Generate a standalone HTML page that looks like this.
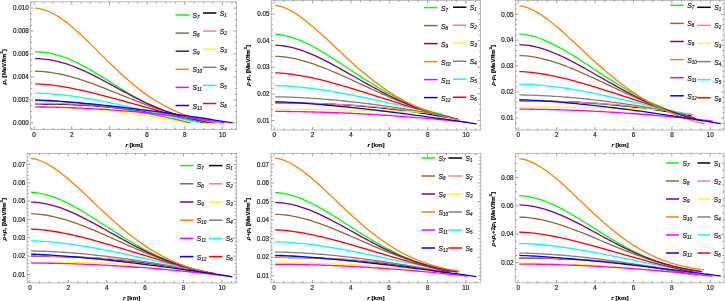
<!DOCTYPE html>
<html><head><meta charset="utf-8"><style>
html,body{margin:0;padding:0;background:#fff;}
body{width:725px;height:301px;overflow:hidden;font-family:"Liberation Sans",sans-serif;}
svg{display:block;will-change:transform;}
</style></head><body>
<svg width="725" height="301" viewBox="0 0 725 301">
<clipPath id="c0"><rect x="30.60" y="1.80" width="205.90" height="127.60"/></clipPath>
<g clip-path="url(#c0)" fill="none" stroke-width="1.30" stroke-linejoin="round" stroke-linecap="butt">
<polyline stroke="#000000" points="35.23,103.96 38.04,103.96 40.84,103.97 43.65,103.99 46.45,104.02 49.26,104.05 52.06,104.09 54.87,104.14 57.68,104.21 60.48,104.27 63.29,104.35 66.09,104.44 68.90,104.54 71.70,104.65 74.51,104.77 77.31,104.90 80.12,105.03 82.93,105.18 85.73,105.34 88.54,105.52 91.34,105.70 94.15,105.89 96.95,106.09 99.76,106.31 102.57,106.54 105.37,106.78 108.18,107.03 110.98,107.29 113.79,107.56 116.59,107.84 119.40,108.14 122.21,108.45 125.01,108.77 127.82,109.10 130.62,109.45 133.43,109.81 136.23,110.18 139.04,110.56 141.85,110.95 144.65,111.36 147.46,111.78 150.26,112.21 153.07,112.65 155.87,113.11 158.68,113.58 161.48,114.07 164.29,114.56 167.10,115.07 169.90,115.59 172.71,116.13 175.51,116.68 178.32,117.24 181.12,117.82 183.93,118.40 186.74,119.01 189.54,119.62 192.35,120.25 195.15,120.89 197.96,121.55 200.76,122.22 203.57,122.90"/>
<polyline stroke="#FF8080" points="35.23,103.38 38.08,103.39 40.94,103.40 43.79,103.42 46.64,103.45 49.49,103.48 52.35,103.52 55.20,103.58 58.05,103.64 60.90,103.71 63.76,103.79 66.61,103.88 69.46,103.98 72.32,104.09 75.17,104.22 78.02,104.35 80.87,104.49 83.73,104.65 86.58,104.81 89.43,104.99 92.28,105.18 95.14,105.37 97.99,105.58 100.84,105.81 103.70,106.04 106.55,106.29 109.40,106.54 112.25,106.81 115.11,107.09 117.96,107.39 120.81,107.69 123.66,108.01 126.52,108.34 129.37,108.68 132.22,109.04 135.08,109.41 137.93,109.79 140.78,110.18 143.63,110.59 146.49,111.01 149.34,111.44 152.19,111.89 155.05,112.34 157.90,112.82 160.75,113.30 163.60,113.80 166.46,114.31 169.31,114.83 172.16,115.37 175.01,115.92 177.87,116.49 180.72,117.07 183.57,117.66 186.43,118.27 189.28,118.89 192.13,119.52 194.98,120.17 197.84,120.83 200.69,121.51 203.54,122.20 206.39,122.90"/>
<polyline stroke="#FFFF00" points="35.23,107.40 37.75,107.41 40.28,107.42 42.80,107.44 45.32,107.47 47.85,107.50 50.37,107.54 52.89,107.59 55.42,107.65 57.94,107.72 60.46,107.79 62.99,107.87 65.51,107.96 68.03,108.06 70.55,108.17 73.08,108.29 75.60,108.41 78.12,108.54 80.65,108.68 83.17,108.83 85.69,108.99 88.22,109.16 90.74,109.34 93.26,109.52 95.79,109.72 98.31,109.92 100.83,110.13 103.36,110.35 105.88,110.59 108.40,110.82 110.93,111.07 113.45,111.33 115.97,111.60 118.50,111.87 121.02,112.16 123.54,112.45 126.07,112.76 128.59,113.07 131.11,113.39 133.64,113.73 136.16,114.07 138.68,114.42 141.21,114.78 143.73,115.15 146.25,115.53 148.77,115.92 151.30,116.31 153.82,116.72 156.34,117.14 158.87,117.57 161.39,118.00 163.91,118.45 166.44,118.90 168.96,119.37 171.48,119.85 174.01,120.33 176.53,120.82 179.05,121.33 181.58,121.84 184.10,122.37 186.62,122.90"/>
<polyline stroke="#808080" points="35.23,100.52 37.82,100.55 40.41,100.61 43.01,100.69 45.60,100.78 48.19,100.89 50.78,101.01 53.38,101.15 55.97,101.30 58.56,101.47 61.15,101.64 63.74,101.83 66.34,102.04 68.93,102.25 71.52,102.48 74.11,102.71 76.71,102.96 79.30,103.22 81.89,103.49 84.48,103.77 87.08,104.06 89.67,104.36 92.26,104.67 94.85,104.99 97.44,105.32 100.04,105.65 102.63,106.00 105.22,106.36 107.81,106.73 110.41,107.10 113.00,107.49 115.59,107.88 118.18,108.29 120.77,108.70 123.37,109.12 125.96,109.55 128.55,109.98 131.14,110.43 133.74,110.89 136.33,111.35 138.92,111.82 141.51,112.30 144.10,112.79 146.70,113.28 149.29,113.79 151.88,114.30 154.47,114.82 157.07,115.34 159.66,115.88 162.25,116.42 164.84,116.97 167.44,117.53 170.03,118.10 172.62,118.67 175.21,119.25 177.80,119.84 180.40,120.44 182.99,121.04 185.58,121.66 188.17,122.27 190.77,122.90"/>
<polyline stroke="#00FFFF" points="35.23,93.06 37.99,93.11 40.74,93.19 43.50,93.31 46.25,93.46 49.01,93.64 51.76,93.85 54.52,94.08 57.27,94.34 60.03,94.62 62.78,94.92 65.54,95.24 68.30,95.59 71.05,95.95 73.81,96.34 76.56,96.74 79.32,97.16 82.07,97.59 84.83,98.05 87.58,98.51 90.34,99.00 93.09,99.49 95.85,100.00 98.61,100.52 101.36,101.05 104.12,101.60 106.87,102.15 109.63,102.71 112.38,103.28 115.14,103.86 117.89,104.45 120.65,105.05 123.40,105.65 126.16,106.25 128.92,106.87 131.67,107.48 134.43,108.10 137.18,108.73 139.94,109.35 142.69,109.98 145.45,110.61 148.20,111.24 150.96,111.88 153.71,112.51 156.47,113.14 159.23,113.77 161.98,114.41 164.74,115.03 167.49,115.66 170.25,116.29 173.00,116.91 175.76,117.53 178.51,118.14 181.27,118.75 184.02,119.36 186.78,119.96 189.54,120.56 192.29,121.16 195.05,121.74 197.80,122.32 200.56,122.90"/>
<polyline stroke="#FF0000" points="35.23,83.88 38.10,83.97 40.97,84.12 43.84,84.32 46.70,84.57 49.57,84.87 52.44,85.20 55.31,85.57 58.18,85.98 61.05,86.41 63.91,86.88 66.78,87.38 69.65,87.90 72.52,88.45 75.39,89.03 78.26,89.63 81.12,90.25 83.99,90.88 86.86,91.54 89.73,92.22 92.60,92.91 95.47,93.61 98.34,94.33 101.20,95.06 104.07,95.81 106.94,96.56 109.81,97.32 112.68,98.09 115.55,98.87 118.41,99.65 121.28,100.44 124.15,101.24 127.02,102.03 129.89,102.83 132.76,103.63 135.63,104.43 138.49,105.23 141.36,106.03 144.23,106.83 147.10,107.63 149.97,108.43 152.84,109.22 155.70,110.00 158.57,110.78 161.44,111.56 164.31,112.33 167.18,113.09 170.05,113.85 172.91,114.60 175.78,115.34 178.65,116.08 181.52,116.80 184.39,117.52 187.26,118.23 190.13,118.93 192.99,119.61 195.86,120.29 198.73,120.96 201.60,121.62 204.47,122.26 207.34,122.90"/>
<polyline stroke="#00FF00" points="35.23,51.73 38.13,51.82 41.04,52.00 43.94,52.29 46.84,52.69 49.74,53.20 52.65,53.81 55.55,54.52 58.45,55.34 61.36,56.26 64.26,57.27 67.16,58.37 70.07,59.56 72.97,60.83 75.87,62.19 78.77,63.61 81.68,65.10 84.58,66.65 87.48,68.26 90.39,69.92 93.29,71.62 96.19,73.35 99.09,75.12 102.00,76.91 104.90,78.71 107.80,80.53 110.71,82.35 113.61,84.17 116.51,85.98 119.42,87.79 122.32,89.57 125.22,91.34 128.12,93.07 131.03,94.78 133.93,96.45 136.83,98.09 139.74,99.68 142.64,101.23 145.54,102.73 148.45,104.19 151.35,105.59 154.25,106.95 157.15,108.25 160.06,109.49 162.96,110.68 165.86,111.82 168.77,112.90 171.67,113.93 174.57,114.91 177.47,115.83 180.38,116.71 183.28,117.53 186.18,118.30 189.09,119.02 191.99,119.70 194.89,120.34 197.80,120.93 200.70,121.48 203.60,121.99 206.50,122.46 209.41,122.90"/>
<polyline stroke="#996633" points="35.23,71.25 38.21,71.32 41.19,71.47 44.16,71.70 47.14,72.00 50.12,72.37 53.10,72.81 56.08,73.31 59.06,73.87 62.03,74.50 65.01,75.18 67.99,75.92 70.97,76.71 73.95,77.55 76.93,78.44 79.90,79.37 82.88,80.34 85.86,81.34 88.84,82.38 91.82,83.46 94.80,84.55 97.77,85.68 100.75,86.82 103.73,87.98 106.71,89.16 109.69,90.35 112.67,91.54 115.64,92.74 118.62,93.95 121.60,95.15 124.58,96.35 127.56,97.55 130.53,98.73 133.51,99.91 136.49,101.07 139.47,102.22 142.45,103.35 145.43,104.47 148.40,105.56 151.38,106.64 154.36,107.69 157.34,108.71 160.32,109.71 163.30,110.69 166.27,111.63 169.25,112.55 172.23,113.45 175.21,114.31 178.19,115.14 181.17,115.95 184.14,116.72 187.12,117.47 190.10,118.18 193.08,118.87 196.06,119.53 199.04,120.16 202.01,120.76 204.99,121.34 207.97,121.88 210.95,122.41 213.93,122.90"/>
<polyline stroke="#800080" points="35.23,58.62 38.22,58.69 41.21,58.85 44.19,59.11 47.18,59.46 50.17,59.90 53.16,60.44 56.14,61.07 59.13,61.78 62.12,62.59 65.11,63.48 68.09,64.45 71.08,65.50 74.07,66.62 77.06,67.81 80.05,69.07 83.03,70.39 86.02,71.76 89.01,73.18 92.00,74.65 94.98,76.16 97.97,77.70 100.96,79.27 103.95,80.86 106.93,82.47 109.92,84.09 112.91,85.72 115.90,87.35 118.89,88.97 121.87,90.59 124.86,92.19 127.85,93.78 130.84,95.35 133.82,96.89 136.81,98.40 139.80,99.88 142.79,101.33 145.77,102.74 148.76,104.11 151.75,105.44 154.74,106.72 157.73,107.96 160.71,109.16 163.70,110.30 166.69,111.41 169.68,112.46 172.66,113.46 175.65,114.42 178.64,115.33 181.63,116.19 184.61,117.01 187.60,117.78 190.59,118.51 193.58,119.20 196.57,119.84 199.55,120.44 202.54,121.01 205.53,121.53 208.52,122.02 211.50,122.48 214.49,122.90"/>
<polyline stroke="#FF8000" points="35.23,8.13 38.25,8.44 41.27,9.03 44.30,9.87 47.32,10.96 50.34,12.26 53.36,13.77 56.39,15.48 59.41,17.37 62.43,19.42 65.45,21.62 68.47,23.97 71.50,26.43 74.52,29.01 77.54,31.69 80.56,34.46 83.59,37.29 86.61,40.19 89.63,43.13 92.65,46.11 95.67,49.11 98.70,52.12 101.72,55.13 104.74,58.14 107.76,61.12 110.79,64.08 113.81,67.00 116.83,69.88 119.85,72.70 122.87,75.47 125.90,78.18 128.92,80.82 131.94,83.39 134.96,85.88 137.99,88.29 141.01,90.62 144.03,92.87 147.05,95.02 150.07,97.10 153.10,99.08 156.12,100.98 159.14,102.79 162.16,104.51 165.19,106.15 168.21,107.70 171.23,109.17 174.25,110.56 177.27,111.87 180.30,113.11 183.32,114.27 186.34,115.36 189.36,116.37 192.38,117.33 195.41,118.22 198.43,119.05 201.45,119.82 204.47,120.53 207.50,121.19 210.52,121.81 213.54,122.38 216.56,122.90"/>
<polyline stroke="#FF00FF" points="35.23,106.94 38.39,106.96 41.54,106.98 44.70,107.01 47.86,107.06 51.02,107.12 54.17,107.18 57.33,107.25 60.49,107.34 63.64,107.43 66.80,107.53 69.96,107.64 73.12,107.76 76.27,107.89 79.43,108.03 82.59,108.18 85.74,108.33 88.90,108.49 92.06,108.67 95.22,108.85 98.37,109.03 101.53,109.23 104.69,109.43 107.84,109.65 111.00,109.87 114.16,110.10 117.32,110.33 120.47,110.58 123.63,110.83 126.79,111.09 129.94,111.36 133.10,111.63 136.26,111.92 139.42,112.21 142.57,112.51 145.73,112.81 148.89,113.13 152.04,113.45 155.20,113.78 158.36,114.12 161.52,114.46 164.67,114.81 167.83,115.17 170.99,115.54 174.14,115.91 177.30,116.30 180.46,116.68 183.62,117.08 186.77,117.49 189.93,117.90 193.09,118.32 196.25,118.74 199.40,119.17 202.56,119.61 205.72,120.06 208.87,120.52 212.03,120.98 215.19,121.45 218.35,121.93 221.50,122.41 224.66,122.90"/>
<polyline stroke="#0000FF" points="35.23,99.96 38.52,100.05 41.81,100.18 45.11,100.34 48.40,100.52 51.69,100.71 54.98,100.92 58.27,101.14 61.57,101.38 64.86,101.63 68.15,101.88 71.44,102.15 74.74,102.43 78.03,102.72 81.32,103.01 84.61,103.32 87.90,103.63 91.20,103.95 94.49,104.27 97.78,104.61 101.07,104.95 104.36,105.30 107.66,105.65 110.95,106.01 114.24,106.38 117.53,106.76 120.82,107.13 124.12,107.52 127.41,107.91 130.70,108.31 133.99,108.71 137.29,109.12 140.58,109.53 143.87,109.95 147.16,110.37 150.45,110.80 153.75,111.23 157.04,111.67 160.33,112.11 163.62,112.56 166.91,113.01 170.21,113.46 173.50,113.92 176.79,114.39 180.08,114.86 183.37,115.33 186.67,115.81 189.96,116.29 193.25,116.77 196.54,117.26 199.84,117.76 203.13,118.25 206.42,118.75 209.71,119.26 213.00,119.77 216.30,120.28 219.59,120.80 222.88,121.32 226.17,121.84 229.46,122.37 232.76,122.90"/>
</g>
<rect x="30.60" y="1.80" width="205.90" height="127.60" fill="none" stroke="#b4b4b4" stroke-width="0.9"/>
<path d="M34.10 129.40v-3.00M34.10 1.80v3.00M43.52 129.40v-1.60M43.52 1.80v1.60M52.93 129.40v-1.60M52.93 1.80v1.60M62.34 129.40v-1.60M62.34 1.80v1.60M71.76 129.40v-3.00M71.76 1.80v3.00M81.17 129.40v-1.60M81.17 1.80v1.60M90.59 129.40v-1.60M90.59 1.80v1.60M100.00 129.40v-1.60M100.00 1.80v1.60M109.42 129.40v-3.00M109.42 1.80v3.00M118.83 129.40v-1.60M118.83 1.80v1.60M128.25 129.40v-1.60M128.25 1.80v1.60M137.66 129.40v-1.60M137.66 1.80v1.60M147.08 129.40v-3.00M147.08 1.80v3.00M156.49 129.40v-1.60M156.49 1.80v1.60M165.91 129.40v-1.60M165.91 1.80v1.60M175.32 129.40v-1.60M175.32 1.80v1.60M184.74 129.40v-3.00M184.74 1.80v3.00M194.15 129.40v-1.60M194.15 1.80v1.60M203.57 129.40v-1.60M203.57 1.80v1.60M212.98 129.40v-1.60M212.98 1.80v1.60M222.40 129.40v-3.00M222.40 1.80v3.00M231.81 129.40v-1.60M231.81 1.80v1.60M30.60 128.64h1.60M236.50 128.64h-1.60M30.60 122.90h3.00M236.50 122.90h-3.00M30.60 117.16h1.60M236.50 117.16h-1.60M30.60 111.42h1.60M236.50 111.42h-1.60M30.60 105.68h1.60M236.50 105.68h-1.60M30.60 99.94h3.00M236.50 99.94h-3.00M30.60 94.20h1.60M236.50 94.20h-1.60M30.60 88.46h1.60M236.50 88.46h-1.60M30.60 82.72h1.60M236.50 82.72h-1.60M30.60 76.98h3.00M236.50 76.98h-3.00M30.60 71.24h1.60M236.50 71.24h-1.60M30.60 65.50h1.60M236.50 65.50h-1.60M30.60 59.76h1.60M236.50 59.76h-1.60M30.60 54.02h3.00M236.50 54.02h-3.00M30.60 48.28h1.60M236.50 48.28h-1.60M30.60 42.54h1.60M236.50 42.54h-1.60M30.60 36.80h1.60M236.50 36.80h-1.60M30.60 31.06h3.00M236.50 31.06h-3.00M30.60 25.32h1.60M236.50 25.32h-1.60M30.60 19.58h1.60M236.50 19.58h-1.60M30.60 13.84h1.60M236.50 13.84h-1.60M30.60 8.10h3.00M236.50 8.10h-3.00M30.60 2.36h1.60M236.50 2.36h-1.60" stroke="#8a8a8a" stroke-width="0.8" fill="none"/>
<g font-family="Liberation Sans, sans-serif" font-size="6.3" fill="#1a1a1a" stroke="#2a2a2a" stroke-width="0.2"><text x="34.10" y="136.70" text-anchor="middle">0</text><text x="71.76" y="136.70" text-anchor="middle">2</text><text x="109.42" y="136.70" text-anchor="middle">4</text><text x="147.08" y="136.70" text-anchor="middle">6</text><text x="184.74" y="136.70" text-anchor="middle">8</text><text x="222.40" y="136.70" text-anchor="middle">10</text><text x="28.70" y="125.10" text-anchor="end">0.000</text><text x="28.70" y="102.14" text-anchor="end">0.002</text><text x="28.70" y="79.18" text-anchor="end">0.004</text><text x="28.70" y="56.22" text-anchor="end">0.006</text><text x="28.70" y="33.26" text-anchor="end">0.008</text><text x="28.70" y="10.30" text-anchor="end">0.010</text></g>
<text x="134.00" y="147.40" text-anchor="middle" font-family="Liberation Sans, sans-serif" font-weight="bold" font-size="6.2" fill="#000" stroke="#000" stroke-width="0.15"><tspan font-style="italic">r</tspan> [km]</text>
<text transform="translate(5.70 49.30) rotate(-90)" text-anchor="end" font-family="Liberation Sans, sans-serif" font-weight="bold" font-size="6.1" fill="#000" stroke="#000" stroke-width="0.12"><tspan font-style="italic">p</tspan><tspan font-size="4.2" dy="0.90">r</tspan><tspan dy="-0.90"> [MeV/fm</tspan><tspan font-size="4.2" dy="-3.00">3</tspan><tspan dy="3.00">]</tspan></text>
<path d="M175.60 15.00H189.00" stroke="#00FF00" stroke-width="1.5"/>
<text x="192.40" y="18.00" font-family="Liberation Sans, sans-serif" font-style="italic" font-size="6.7" fill="#2a2a2a" stroke="#2a2a2a" stroke-width="0.25">S<tspan font-size="4.5" dx="0.1" dy="1.0" stroke-width="0.2">7</tspan></text>
<path d="M203.00 13.00H216.40" stroke="#000000" stroke-width="1.5"/>
<text x="219.80" y="16.00" font-family="Liberation Sans, sans-serif" font-style="italic" font-size="6.7" fill="#2a2a2a" stroke="#2a2a2a" stroke-width="0.25">S<tspan font-size="4.5" dx="0.1" dy="1.0" stroke-width="0.2">1</tspan></text>
<path d="M175.60 33.10H189.00" stroke="#996633" stroke-width="1.5"/>
<text x="192.40" y="36.10" font-family="Liberation Sans, sans-serif" font-style="italic" font-size="6.7" fill="#2a2a2a" stroke="#2a2a2a" stroke-width="0.25">S<tspan font-size="4.5" dx="0.1" dy="1.0" stroke-width="0.2">8</tspan></text>
<path d="M203.00 31.10H216.40" stroke="#FF8080" stroke-width="1.5"/>
<text x="219.80" y="34.10" font-family="Liberation Sans, sans-serif" font-style="italic" font-size="6.7" fill="#2a2a2a" stroke="#2a2a2a" stroke-width="0.25">S<tspan font-size="4.5" dx="0.1" dy="1.0" stroke-width="0.2">2</tspan></text>
<path d="M175.60 51.20H189.00" stroke="#800080" stroke-width="1.5"/>
<text x="192.40" y="54.20" font-family="Liberation Sans, sans-serif" font-style="italic" font-size="6.7" fill="#2a2a2a" stroke="#2a2a2a" stroke-width="0.25">S<tspan font-size="4.5" dx="0.1" dy="1.0" stroke-width="0.2">9</tspan></text>
<path d="M203.00 49.20H216.40" stroke="#FFFF00" stroke-width="1.5"/>
<text x="219.80" y="52.20" font-family="Liberation Sans, sans-serif" font-style="italic" font-size="6.7" fill="#2a2a2a" stroke="#2a2a2a" stroke-width="0.25">S<tspan font-size="4.5" dx="0.1" dy="1.0" stroke-width="0.2">3</tspan></text>
<path d="M175.60 69.30H189.00" stroke="#FF8000" stroke-width="1.5"/>
<text x="192.40" y="72.30" font-family="Liberation Sans, sans-serif" font-style="italic" font-size="6.7" fill="#2a2a2a" stroke="#2a2a2a" stroke-width="0.25">S<tspan font-size="4.5" dx="0.1" dy="1.0" stroke-width="0.2">10</tspan></text>
<path d="M203.00 67.30H216.40" stroke="#808080" stroke-width="1.5"/>
<text x="219.80" y="70.30" font-family="Liberation Sans, sans-serif" font-style="italic" font-size="6.7" fill="#2a2a2a" stroke="#2a2a2a" stroke-width="0.25">S<tspan font-size="4.5" dx="0.1" dy="1.0" stroke-width="0.2">4</tspan></text>
<path d="M175.60 87.40H189.00" stroke="#FF00FF" stroke-width="1.5"/>
<text x="192.40" y="90.40" font-family="Liberation Sans, sans-serif" font-style="italic" font-size="6.7" fill="#2a2a2a" stroke="#2a2a2a" stroke-width="0.25">S<tspan font-size="4.5" dx="0.1" dy="1.0" stroke-width="0.2">11</tspan></text>
<path d="M203.00 85.40H216.40" stroke="#00FFFF" stroke-width="1.5"/>
<text x="219.80" y="88.40" font-family="Liberation Sans, sans-serif" font-style="italic" font-size="6.7" fill="#2a2a2a" stroke="#2a2a2a" stroke-width="0.25">S<tspan font-size="4.5" dx="0.1" dy="1.0" stroke-width="0.2">5</tspan></text>
<path d="M175.60 105.50H189.00" stroke="#0000FF" stroke-width="1.5"/>
<text x="192.40" y="108.50" font-family="Liberation Sans, sans-serif" font-style="italic" font-size="6.7" fill="#2a2a2a" stroke="#2a2a2a" stroke-width="0.25">S<tspan font-size="4.5" dx="0.1" dy="1.0" stroke-width="0.2">12</tspan></text>
<path d="M203.00 103.50H216.40" stroke="#FF0000" stroke-width="1.5"/>
<text x="219.80" y="106.50" font-family="Liberation Sans, sans-serif" font-style="italic" font-size="6.7" fill="#2a2a2a" stroke="#2a2a2a" stroke-width="0.25">S<tspan font-size="4.5" dx="0.1" dy="1.0" stroke-width="0.2">6</tspan></text>
<clipPath id="c1"><rect x="271.30" y="0.40" width="209.30" height="129.60"/></clipPath>
<g clip-path="url(#c1)" fill="none" stroke-width="1.30" stroke-linejoin="round" stroke-linecap="butt">
<polyline stroke="#000000" points="275.35,102.93 278.21,102.93 281.07,102.94 283.92,102.95 286.78,102.97 289.64,103.00 292.50,103.03 295.36,103.07 298.21,103.12 301.07,103.17 303.93,103.23 306.79,103.29 309.64,103.37 312.50,103.45 315.36,103.54 318.22,103.64 321.08,103.74 323.93,103.86 326.79,103.98 329.65,104.11 332.51,104.25 335.37,104.39 338.22,104.55 341.08,104.71 343.94,104.89 346.80,105.07 349.65,105.26 352.51,105.45 355.37,105.66 358.23,105.88 361.09,106.10 363.94,106.34 366.80,106.58 369.66,106.83 372.52,107.09 375.37,107.37 378.23,107.65 381.09,107.94 383.95,108.24 386.81,108.54 389.66,108.86 392.52,109.19 395.38,109.53 398.24,109.88 401.09,110.23 403.95,110.60 406.81,110.98 409.67,111.36 412.53,111.76 415.38,112.17 418.24,112.58 421.10,113.01 423.96,113.45 426.82,113.89 429.67,114.35 432.53,114.82 435.39,115.29 438.25,115.78 441.10,116.28 443.96,116.79 446.82,117.31"/>
<polyline stroke="#FF8080" points="275.35,102.93 278.26,102.93 281.16,102.94 284.07,102.95 286.97,102.97 289.88,102.99 292.79,103.02 295.69,103.06 298.60,103.10 301.50,103.15 304.41,103.21 307.31,103.27 310.22,103.34 313.13,103.42 316.03,103.51 318.94,103.60 321.84,103.70 324.75,103.81 327.65,103.92 330.56,104.04 333.47,104.17 336.37,104.31 339.28,104.46 342.18,104.61 345.09,104.78 348.00,104.95 350.90,105.13 353.81,105.31 356.71,105.51 359.62,105.71 362.52,105.93 365.43,106.15 368.34,106.38 371.24,106.62 374.15,106.86 377.05,107.12 379.96,107.38 382.86,107.66 385.77,107.94 388.68,108.23 391.58,108.53 394.49,108.84 397.39,109.16 400.30,109.49 403.20,109.83 406.11,110.17 409.02,110.53 411.92,110.89 414.83,111.27 417.73,111.65 420.64,112.05 423.55,112.45 426.45,112.86 429.36,113.28 432.26,113.71 435.17,114.16 438.07,114.61 440.98,115.07 443.89,115.54 446.79,116.02 449.70,116.51"/>
<polyline stroke="#FFFF00" points="275.35,109.32 277.92,109.32 280.49,109.32 283.06,109.33 285.63,109.33 288.20,109.34 290.77,109.35 293.34,109.36 295.91,109.37 298.48,109.38 301.05,109.40 303.62,109.41 306.19,109.43 308.76,109.45 311.33,109.48 313.90,109.50 316.47,109.53 319.04,109.55 321.61,109.58 324.18,109.61 326.75,109.65 329.32,109.68 331.89,109.72 334.46,109.75 337.03,109.79 339.60,109.84 342.17,109.88 344.74,109.93 347.31,109.97 349.88,110.02 352.45,110.07 355.02,110.13 357.59,110.18 360.16,110.24 362.73,110.30 365.30,110.36 367.88,110.42 370.45,110.49 373.02,110.55 375.59,110.62 378.16,110.69 380.73,110.76 383.30,110.84 385.87,110.91 388.44,110.99 391.01,111.07 393.58,111.15 396.15,111.24 398.72,111.32 401.29,111.41 403.86,111.50 406.43,111.59 409.00,111.69 411.57,111.78 414.14,111.88 416.71,111.98 419.28,112.08 421.85,112.19 424.42,112.29 426.99,112.40 429.56,112.51"/>
<polyline stroke="#808080" points="275.35,96.81 277.99,96.83 280.63,96.88 283.27,96.93 285.91,97.00 288.55,97.09 291.19,97.18 293.83,97.29 296.47,97.40 299.11,97.53 301.76,97.66 304.40,97.81 307.04,97.96 309.68,98.13 312.32,98.30 314.96,98.48 317.60,98.67 320.24,98.86 322.88,99.07 325.52,99.28 328.16,99.50 330.80,99.73 333.44,99.97 336.08,100.21 338.72,100.46 341.36,100.72 344.00,100.98 346.64,101.25 349.28,101.53 351.92,101.82 354.56,102.11 357.20,102.41 359.85,102.72 362.49,103.03 365.13,103.35 367.77,103.68 370.41,104.01 373.05,104.35 375.69,104.70 378.33,105.05 380.97,105.41 383.61,105.77 386.25,106.15 388.89,106.52 391.53,106.91 394.17,107.30 396.81,107.69 399.45,108.09 402.09,108.50 404.73,108.91 407.37,109.33 410.01,109.76 412.65,110.19 415.29,110.63 417.93,111.07 420.58,111.52 423.22,111.97 425.86,112.43 428.50,112.90 431.14,113.37 433.78,113.84"/>
<polyline stroke="#00FFFF" points="275.35,85.63 278.16,85.67 280.96,85.76 283.77,85.87 286.58,86.02 289.38,86.19 292.19,86.39 295.00,86.61 297.80,86.86 300.61,87.13 303.42,87.42 306.22,87.73 309.03,88.06 311.84,88.42 314.64,88.79 317.45,89.17 320.26,89.58 323.06,90.00 325.87,90.43 328.68,90.88 331.48,91.35 334.29,91.82 337.10,92.31 339.90,92.82 342.71,93.33 345.52,93.85 348.32,94.39 351.13,94.93 353.94,95.48 356.74,96.04 359.55,96.60 362.36,97.18 365.16,97.76 367.97,98.34 370.78,98.93 373.58,99.52 376.39,100.12 379.20,100.72 382.00,101.33 384.81,101.93 387.62,102.54 390.42,103.15 393.23,103.76 396.04,104.37 398.84,104.98 401.65,105.58 404.46,106.19 407.26,106.80 410.07,107.40 412.88,108.01 415.68,108.60 418.49,109.20 421.30,109.79 424.10,110.38 426.91,110.97 429.72,111.55 432.52,112.12 435.33,112.70 438.14,113.26 440.94,113.82 443.75,114.38"/>
<polyline stroke="#FF0000" points="275.35,72.85 278.27,72.96 281.19,73.13 284.12,73.36 287.04,73.65 289.96,73.99 292.88,74.38 295.80,74.80 298.72,75.27 301.65,75.78 304.57,76.32 307.49,76.89 310.41,77.49 313.33,78.13 316.26,78.79 319.18,79.48 322.10,80.19 325.02,80.93 327.94,81.69 330.86,82.46 333.79,83.26 336.71,84.07 339.63,84.90 342.55,85.75 345.47,86.60 348.39,87.47 351.32,88.35 354.24,89.24 357.16,90.13 360.08,91.04 363.00,91.95 365.93,92.86 368.85,93.78 371.77,94.70 374.69,95.62 377.61,96.55 380.53,97.47 383.46,98.40 386.38,99.32 389.30,100.24 392.22,101.15 395.14,102.06 398.06,102.97 400.99,103.87 403.91,104.76 406.83,105.65 409.75,106.53 412.67,107.41 415.59,108.27 418.52,109.13 421.44,109.97 424.36,110.81 427.28,111.64 430.20,112.45 433.13,113.26 436.05,114.05 438.97,114.83 441.89,115.60 444.81,116.36 447.73,117.10 450.66,117.84"/>
<polyline stroke="#00FF00" points="275.35,34.26 278.31,34.46 281.26,34.83 284.22,35.37 287.18,36.04 290.14,36.84 293.09,37.77 296.05,38.81 299.01,39.95 301.96,41.20 304.92,42.54 307.88,43.96 310.83,45.46 313.79,47.04 316.75,48.67 319.70,50.37 322.66,52.11 325.62,53.91 328.58,55.74 331.53,57.60 334.49,59.49 337.45,61.40 340.40,63.33 343.36,65.27 346.32,67.22 349.27,69.17 352.23,71.11 355.19,73.05 358.14,74.97 361.10,76.88 364.06,78.77 367.02,80.64 369.97,82.48 372.93,84.30 375.89,86.08 378.84,87.83 381.80,89.55 384.76,91.23 387.71,92.87 390.67,94.46 393.63,96.02 396.58,97.53 399.54,99.00 402.50,100.43 405.46,101.81 408.41,103.14 411.37,104.43 414.33,105.67 417.28,106.87 420.24,108.02 423.20,109.13 426.15,110.19 429.11,111.21 432.07,112.18 435.02,113.11 437.98,114.00 440.94,114.84 443.90,115.65 446.85,116.42 449.81,117.15 452.77,117.84"/>
<polyline stroke="#996633" points="275.35,56.35 278.38,56.46 281.42,56.69 284.45,57.00 287.49,57.41 290.52,57.91 293.55,58.48 296.59,59.14 299.62,59.86 302.65,60.65 305.69,61.51 308.72,62.43 311.75,63.41 314.79,64.44 317.82,65.52 320.86,66.65 323.89,67.81 326.92,69.02 329.96,70.27 332.99,71.54 336.02,72.84 339.06,74.17 342.09,75.52 345.12,76.89 348.16,78.27 351.19,79.67 354.23,81.07 357.26,82.47 360.29,83.88 363.33,85.29 366.36,86.70 369.39,88.10 372.43,89.49 375.46,90.87 378.49,92.24 381.53,93.59 384.56,94.93 387.60,96.25 390.63,97.55 393.66,98.83 396.70,100.08 399.73,101.31 402.76,102.52 405.80,103.69 408.83,104.84 411.86,105.96 414.90,107.06 417.93,108.12 420.97,109.15 424.00,110.16 427.03,111.13 430.07,112.07 433.10,112.98 436.13,113.86 439.17,114.71 442.20,115.53 445.23,116.31 448.27,117.07 451.30,117.80 454.34,118.50 457.37,119.17"/>
<polyline stroke="#800080" points="275.35,45.17 278.39,45.31 281.44,45.60 284.48,46.01 287.52,46.54 290.57,47.18 293.61,47.93 296.65,48.78 299.70,49.73 302.74,50.76 305.78,51.88 308.83,53.08 311.87,54.35 314.91,55.69 317.96,57.09 321.00,58.54 324.04,60.05 327.09,61.61 330.13,63.20 333.17,64.83 336.22,66.49 339.26,68.17 342.30,69.88 345.35,71.60 348.39,73.33 351.43,75.06 354.47,76.80 357.52,78.54 360.56,80.27 363.60,81.98 366.65,83.69 369.69,85.38 372.73,87.04 375.78,88.69 378.82,90.30 381.86,91.89 384.91,93.45 387.95,94.98 390.99,96.47 394.04,97.93 397.08,99.35 400.12,100.73 403.17,102.07 406.21,103.37 409.25,104.62 412.30,105.84 415.34,107.02 418.38,108.15 421.43,109.24 424.47,110.29 427.51,111.29 430.56,112.26 433.60,113.18 436.64,114.06 439.69,114.91 442.73,115.71 445.77,116.47 448.81,117.20 451.86,117.89 454.90,118.55 457.94,119.17"/>
<polyline stroke="#FF8000" points="275.35,5.27 278.43,5.76 281.51,6.59 284.59,7.71 287.66,9.08 290.74,10.66 293.82,12.44 296.90,14.40 299.98,16.52 303.06,18.77 306.13,21.15 309.21,23.64 312.29,26.22 315.37,28.88 318.45,31.61 321.53,34.39 324.61,37.22 327.68,40.08 330.76,42.96 333.84,45.85 336.92,48.74 340.00,51.62 343.08,54.49 346.15,57.34 349.23,60.16 352.31,62.94 355.39,65.68 358.47,68.37 361.55,71.01 364.62,73.60 367.70,76.13 370.78,78.59 373.86,80.99 376.94,83.31 380.02,85.57 383.09,87.76 386.17,89.88 389.25,91.92 392.33,93.88 395.41,95.78 398.49,97.60 401.56,99.34 404.64,101.01 407.72,102.61 410.80,104.14 413.88,105.60 416.96,106.99 420.04,108.31 423.11,109.57 426.19,110.76 429.27,111.90 432.35,112.97 435.43,113.98 438.51,114.94 441.58,115.84 444.66,116.69 447.74,117.49 450.82,118.24 453.90,118.95 456.98,119.61 460.05,120.23"/>
<polyline stroke="#FF00FF" points="275.35,111.42 278.57,111.43 281.78,111.45 285.00,111.47 288.21,111.50 291.43,111.54 294.65,111.58 297.86,111.63 301.08,111.69 304.29,111.76 307.51,111.83 310.73,111.90 313.94,111.98 317.16,112.07 320.37,112.17 323.59,112.27 326.80,112.37 330.02,112.49 333.24,112.60 336.45,112.73 339.67,112.85 342.88,112.99 346.10,113.13 349.32,113.27 352.53,113.43 355.75,113.58 358.96,113.75 362.18,113.91 365.39,114.09 368.61,114.26 371.83,114.45 375.04,114.64 378.26,114.83 381.47,115.03 384.69,115.24 387.91,115.45 391.12,115.66 394.34,115.88 397.55,116.11 400.77,116.34 403.98,116.58 407.20,116.82 410.42,117.06 413.63,117.32 416.85,117.57 420.06,117.83 423.28,118.10 426.50,118.37 429.71,118.65 432.93,118.93 436.14,119.22 439.36,119.51 442.57,119.81 445.79,120.11 449.01,120.42 452.22,120.73 455.44,121.05 458.65,121.37 461.87,121.70 465.09,122.03 468.30,122.36"/>
<polyline stroke="#0000FF" points="275.35,101.75 278.70,101.84 282.06,101.96 285.41,102.12 288.76,102.29 292.12,102.48 295.47,102.68 298.82,102.89 302.18,103.12 305.53,103.36 308.88,103.61 312.24,103.87 315.59,104.14 318.94,104.42 322.30,104.70 325.65,105.00 329.00,105.30 332.36,105.61 335.71,105.93 339.06,106.25 342.42,106.58 345.77,106.92 349.12,107.26 352.48,107.61 355.83,107.97 359.18,108.33 362.54,108.70 365.89,109.07 369.24,109.45 372.60,109.83 375.95,110.22 379.30,110.62 382.66,111.01 386.01,111.42 389.36,111.83 392.72,112.24 396.07,112.66 399.42,113.08 402.78,113.51 406.13,113.94 409.48,114.38 412.84,114.82 416.19,115.27 419.54,115.72 422.90,116.17 426.25,116.63 429.60,117.09 432.96,117.56 436.31,118.03 439.66,118.50 443.02,118.98 446.37,119.46 449.72,119.95 453.08,120.44 456.43,120.93 459.78,121.43 463.14,121.93 466.49,122.43 469.84,122.94 473.20,123.45 476.55,123.96"/>
</g>
<rect x="271.30" y="0.40" width="209.30" height="129.60" fill="none" stroke="#b4b4b4" stroke-width="0.9"/>
<path d="M274.20 130.00v-3.00M274.20 0.40v3.00M283.79 130.00v-1.60M283.79 0.40v1.60M293.38 130.00v-1.60M293.38 0.40v1.60M302.97 130.00v-1.60M302.97 0.40v1.60M312.56 130.00v-3.00M312.56 0.40v3.00M322.15 130.00v-1.60M322.15 0.40v1.60M331.74 130.00v-1.60M331.74 0.40v1.60M341.33 130.00v-1.60M341.33 0.40v1.60M350.92 130.00v-3.00M350.92 0.40v3.00M360.51 130.00v-1.60M360.51 0.40v1.60M370.10 130.00v-1.60M370.10 0.40v1.60M379.69 130.00v-1.60M379.69 0.40v1.60M389.28 130.00v-3.00M389.28 0.40v3.00M398.87 130.00v-1.60M398.87 0.40v1.60M408.46 130.00v-1.60M408.46 0.40v1.60M418.05 130.00v-1.60M418.05 0.40v1.60M427.64 130.00v-3.00M427.64 0.40v3.00M437.23 130.00v-1.60M437.23 0.40v1.60M446.82 130.00v-1.60M446.82 0.40v1.60M456.41 130.00v-1.60M456.41 0.40v1.60M466.00 130.00v-3.00M466.00 0.40v3.00M475.59 130.00v-1.60M475.59 0.40v1.60M271.30 125.82h1.60M480.60 125.82h-1.60M271.30 120.50h3.00M480.60 120.50h-3.00M271.30 115.17h1.60M480.60 115.17h-1.60M271.30 109.85h1.60M480.60 109.85h-1.60M271.30 104.52h1.60M480.60 104.52h-1.60M271.30 99.20h1.60M480.60 99.20h-1.60M271.30 93.87h3.00M480.60 93.87h-3.00M271.30 88.55h1.60M480.60 88.55h-1.60M271.30 83.22h1.60M480.60 83.22h-1.60M271.30 77.90h1.60M480.60 77.90h-1.60M271.30 72.57h1.60M480.60 72.57h-1.60M271.30 67.25h3.00M480.60 67.25h-3.00M271.30 61.92h1.60M480.60 61.92h-1.60M271.30 56.60h1.60M480.60 56.60h-1.60M271.30 51.27h1.60M480.60 51.27h-1.60M271.30 45.95h1.60M480.60 45.95h-1.60M271.30 40.62h3.00M480.60 40.62h-3.00M271.30 35.30h1.60M480.60 35.30h-1.60M271.30 29.97h1.60M480.60 29.97h-1.60M271.30 24.65h1.60M480.60 24.65h-1.60M271.30 19.32h1.60M480.60 19.32h-1.60M271.30 14.00h3.00M480.60 14.00h-3.00M271.30 8.67h1.60M480.60 8.67h-1.60M271.30 3.35h1.60M480.60 3.35h-1.60" stroke="#8a8a8a" stroke-width="0.8" fill="none"/>
<g font-family="Liberation Sans, sans-serif" font-size="6.3" fill="#1a1a1a" stroke="#2a2a2a" stroke-width="0.2"><text x="274.20" y="137.30" text-anchor="middle">0</text><text x="312.56" y="137.30" text-anchor="middle">2</text><text x="350.92" y="137.30" text-anchor="middle">4</text><text x="389.28" y="137.30" text-anchor="middle">6</text><text x="427.64" y="137.30" text-anchor="middle">8</text><text x="466.00" y="137.30" text-anchor="middle">10</text><text x="269.40" y="122.70" text-anchor="end">0.01</text><text x="269.40" y="96.08" text-anchor="end">0.02</text><text x="269.40" y="69.45" text-anchor="end">0.03</text><text x="269.40" y="42.83" text-anchor="end">0.04</text><text x="269.40" y="16.20" text-anchor="end">0.05</text></g>
<text x="376.00" y="147.40" text-anchor="middle" font-family="Liberation Sans, sans-serif" font-weight="bold" font-size="6.2" fill="#000" stroke="#000" stroke-width="0.15"><tspan font-style="italic">r</tspan> [km]</text>
<text transform="translate(250.30 45.00) rotate(-90)" text-anchor="end" font-family="Liberation Sans, sans-serif" font-weight="bold" font-size="6.1" fill="#000" stroke="#000" stroke-width="0.12"><tspan font-style="italic">&#961;</tspan><tspan>-</tspan><tspan font-style="italic">p</tspan><tspan font-size="4.2" dy="0.90">r</tspan><tspan dy="-0.90"> [MeV/fm</tspan><tspan font-size="4.2" dy="-3.00">3</tspan><tspan dy="3.00">]</tspan></text>
<path d="M424.00 7.60H437.60" stroke="#00FF00" stroke-width="1.5"/>
<text x="441.00" y="10.60" font-family="Liberation Sans, sans-serif" font-style="italic" font-size="6.7" fill="#2a2a2a" stroke="#2a2a2a" stroke-width="0.25">S<tspan font-size="4.5" dx="0.1" dy="1.0" stroke-width="0.2">7</tspan></text>
<path d="M453.00 7.20H466.40" stroke="#000000" stroke-width="1.5"/>
<text x="469.80" y="10.20" font-family="Liberation Sans, sans-serif" font-style="italic" font-size="6.7" fill="#2a2a2a" stroke="#2a2a2a" stroke-width="0.25">S<tspan font-size="4.5" dx="0.1" dy="1.0" stroke-width="0.2">1</tspan></text>
<path d="M424.00 25.60H437.60" stroke="#996633" stroke-width="1.5"/>
<text x="441.00" y="28.60" font-family="Liberation Sans, sans-serif" font-style="italic" font-size="6.7" fill="#2a2a2a" stroke="#2a2a2a" stroke-width="0.25">S<tspan font-size="4.5" dx="0.1" dy="1.0" stroke-width="0.2">8</tspan></text>
<path d="M453.00 25.20H466.40" stroke="#FF8080" stroke-width="1.5"/>
<text x="469.80" y="28.20" font-family="Liberation Sans, sans-serif" font-style="italic" font-size="6.7" fill="#2a2a2a" stroke="#2a2a2a" stroke-width="0.25">S<tspan font-size="4.5" dx="0.1" dy="1.0" stroke-width="0.2">2</tspan></text>
<path d="M424.00 43.60H437.60" stroke="#800080" stroke-width="1.5"/>
<text x="441.00" y="46.60" font-family="Liberation Sans, sans-serif" font-style="italic" font-size="6.7" fill="#2a2a2a" stroke="#2a2a2a" stroke-width="0.25">S<tspan font-size="4.5" dx="0.1" dy="1.0" stroke-width="0.2">9</tspan></text>
<path d="M453.00 43.20H466.40" stroke="#FFFF00" stroke-width="1.5"/>
<text x="469.80" y="46.20" font-family="Liberation Sans, sans-serif" font-style="italic" font-size="6.7" fill="#2a2a2a" stroke="#2a2a2a" stroke-width="0.25">S<tspan font-size="4.5" dx="0.1" dy="1.0" stroke-width="0.2">3</tspan></text>
<path d="M424.00 61.60H437.60" stroke="#FF8000" stroke-width="1.5"/>
<text x="441.00" y="64.60" font-family="Liberation Sans, sans-serif" font-style="italic" font-size="6.7" fill="#2a2a2a" stroke="#2a2a2a" stroke-width="0.25">S<tspan font-size="4.5" dx="0.1" dy="1.0" stroke-width="0.2">10</tspan></text>
<path d="M453.00 61.20H466.40" stroke="#808080" stroke-width="1.5"/>
<text x="469.80" y="64.20" font-family="Liberation Sans, sans-serif" font-style="italic" font-size="6.7" fill="#2a2a2a" stroke="#2a2a2a" stroke-width="0.25">S<tspan font-size="4.5" dx="0.1" dy="1.0" stroke-width="0.2">4</tspan></text>
<path d="M424.00 79.60H437.60" stroke="#FF00FF" stroke-width="1.5"/>
<text x="441.00" y="82.60" font-family="Liberation Sans, sans-serif" font-style="italic" font-size="6.7" fill="#2a2a2a" stroke="#2a2a2a" stroke-width="0.25">S<tspan font-size="4.5" dx="0.1" dy="1.0" stroke-width="0.2">11</tspan></text>
<path d="M453.00 79.20H466.40" stroke="#00FFFF" stroke-width="1.5"/>
<text x="469.80" y="82.20" font-family="Liberation Sans, sans-serif" font-style="italic" font-size="6.7" fill="#2a2a2a" stroke="#2a2a2a" stroke-width="0.25">S<tspan font-size="4.5" dx="0.1" dy="1.0" stroke-width="0.2">5</tspan></text>
<path d="M424.00 97.60H437.60" stroke="#0000FF" stroke-width="1.5"/>
<text x="441.00" y="100.60" font-family="Liberation Sans, sans-serif" font-style="italic" font-size="6.7" fill="#2a2a2a" stroke="#2a2a2a" stroke-width="0.25">S<tspan font-size="4.5" dx="0.1" dy="1.0" stroke-width="0.2">12</tspan></text>
<path d="M453.00 97.20H466.40" stroke="#FF0000" stroke-width="1.5"/>
<text x="469.80" y="100.20" font-family="Liberation Sans, sans-serif" font-style="italic" font-size="6.7" fill="#2a2a2a" stroke="#2a2a2a" stroke-width="0.25">S<tspan font-size="4.5" dx="0.1" dy="1.0" stroke-width="0.2">6</tspan></text>
<clipPath id="c2"><rect x="515.40" y="0.40" width="208.60" height="129.60"/></clipPath>
<g clip-path="url(#c2)" fill="none" stroke-width="1.30" stroke-linejoin="round" stroke-linecap="butt">
<polyline stroke="#000000" points="519.45,100.89 522.31,100.89 525.17,100.90 528.03,100.92 530.90,100.94 533.76,100.96 536.62,101.00 539.48,101.04 542.34,101.09 545.20,101.14 548.06,101.20 550.92,101.27 553.78,101.35 556.64,101.44 559.50,101.53 562.36,101.63 565.22,101.74 568.09,101.86 570.95,101.99 573.81,102.12 576.67,102.26 579.53,102.42 582.39,102.58 585.25,102.74 588.11,102.92 590.97,103.11 593.83,103.30 596.69,103.51 599.55,103.72 602.42,103.95 605.28,104.18 608.14,104.42 611.00,104.67 613.86,104.93 616.72,105.20 619.58,105.48 622.44,105.77 625.30,106.06 628.16,106.37 631.02,106.69 633.88,107.02 636.74,107.35 639.61,107.70 642.47,108.06 645.33,108.42 648.19,108.80 651.05,109.19 653.91,109.58 656.77,109.99 659.63,110.41 662.49,110.83 665.35,111.27 668.21,111.72 671.07,112.17 673.94,112.64 676.80,113.12 679.66,113.61 682.52,114.11 685.38,114.62 688.24,115.14 691.10,115.67"/>
<polyline stroke="#FF8080" points="519.45,100.89 522.36,100.89 525.27,100.90 528.18,100.92 531.09,100.94 534.00,100.96 536.90,100.99 539.81,101.03 542.72,101.08 545.63,101.13 548.54,101.19 551.45,101.25 554.36,101.33 557.27,101.41 560.18,101.50 563.08,101.59 565.99,101.70 568.90,101.81 571.81,101.93 574.72,102.06 577.63,102.19 580.54,102.34 583.45,102.49 586.35,102.65 589.26,102.82 592.17,102.99 595.08,103.18 597.99,103.37 600.90,103.57 603.81,103.79 606.72,104.01 609.62,104.23 612.53,104.47 615.44,104.72 618.35,104.97 621.26,105.24 624.17,105.51 627.08,105.79 629.99,106.08 632.90,106.39 635.80,106.70 638.71,107.01 641.62,107.34 644.53,107.68 647.44,108.03 650.35,108.38 653.26,108.75 656.17,109.13 659.07,109.51 661.98,109.91 664.89,110.31 667.80,110.72 670.71,111.15 673.62,111.58 676.53,112.02 679.44,112.48 682.34,112.94 685.25,113.41 688.16,113.89 691.07,114.39 693.98,114.89"/>
<polyline stroke="#FFFF00" points="519.45,107.11 522.02,107.11 524.60,107.12 527.17,107.12 529.74,107.12 532.32,107.13 534.89,107.14 537.46,107.15 540.03,107.16 542.61,107.17 545.18,107.19 547.75,107.21 550.33,107.22 552.90,107.24 555.47,107.27 558.04,107.29 560.62,107.31 563.19,107.34 565.76,107.37 568.34,107.40 570.91,107.43 573.48,107.46 576.05,107.50 578.63,107.54 581.20,107.58 583.77,107.62 586.34,107.66 588.92,107.70 591.49,107.75 594.06,107.80 596.64,107.85 599.21,107.90 601.78,107.95 604.35,108.01 606.93,108.07 609.50,108.13 612.07,108.19 614.65,108.25 617.22,108.31 619.79,108.38 622.36,108.45 624.94,108.52 627.51,108.59 630.08,108.67 632.66,108.74 635.23,108.82 637.80,108.90 640.37,108.98 642.95,109.07 645.52,109.15 648.09,109.24 650.66,109.33 653.24,109.42 655.81,109.51 658.38,109.61 660.96,109.71 663.53,109.81 666.10,109.91 668.67,110.01 671.25,110.12 673.82,110.22"/>
<polyline stroke="#808080" points="519.45,94.93 522.10,94.96 524.74,95.00 527.38,95.06 530.02,95.13 532.67,95.21 535.31,95.31 537.95,95.42 540.60,95.54 543.24,95.66 545.88,95.80 548.53,95.95 551.17,96.11 553.81,96.28 556.46,96.46 559.10,96.64 561.74,96.84 564.39,97.04 567.03,97.25 569.67,97.47 572.32,97.70 574.96,97.94 577.60,98.18 580.25,98.44 582.89,98.70 585.53,98.97 588.18,99.24 590.82,99.53 593.46,99.82 596.10,100.12 598.75,100.43 601.39,100.74 604.03,101.06 606.68,101.39 609.32,101.72 611.96,102.07 614.61,102.42 617.25,102.77 619.89,103.14 622.54,103.51 625.18,103.89 627.82,104.27 630.47,104.66 633.11,105.06 635.75,105.46 638.40,105.88 641.04,106.29 643.68,106.72 646.33,107.15 648.97,107.59 651.61,108.03 654.26,108.48 656.90,108.94 659.54,109.40 662.18,109.87 664.83,110.34 667.47,110.83 670.11,111.31 672.76,111.81 675.40,112.31 678.04,112.81"/>
<polyline stroke="#00FFFF" points="519.45,84.04 522.26,84.09 525.07,84.17 527.88,84.29 530.69,84.44 533.50,84.61 536.31,84.81 539.12,85.04 541.93,85.29 544.74,85.57 547.55,85.87 550.36,86.19 553.17,86.53 555.98,86.89 558.79,87.27 561.60,87.67 564.41,88.08 567.22,88.51 570.02,88.96 572.83,89.43 575.64,89.91 578.45,90.40 581.26,90.91 584.07,91.43 586.88,91.97 589.69,92.51 592.50,93.07 595.31,93.63 598.12,94.21 600.93,94.79 603.74,95.39 606.55,95.99 609.36,96.60 612.17,97.22 614.98,97.84 617.79,98.47 620.60,99.10 623.41,99.74 626.22,100.38 629.03,101.02 631.84,101.67 634.65,102.32 637.46,102.97 640.26,103.63 643.07,104.29 645.88,104.94 648.69,105.60 651.50,106.26 654.31,106.91 657.12,107.57 659.93,108.22 662.74,108.88 665.55,109.53 668.36,110.18 671.17,110.82 673.98,111.46 676.79,112.11 679.60,112.74 682.41,113.38 685.22,114.00 688.03,114.63"/>
<polyline stroke="#FF0000" points="519.45,71.61 522.38,71.71 525.30,71.88 528.23,72.11 531.15,72.40 534.08,72.74 537.00,73.12 539.93,73.54 542.85,74.01 545.78,74.51 548.70,75.05 551.62,75.63 554.55,76.23 557.47,76.87 560.40,77.54 563.32,78.23 566.25,78.94 569.17,79.68 572.10,80.45 575.02,81.23 577.95,82.04 580.87,82.86 583.80,83.70 586.72,84.55 589.65,85.42 592.57,86.30 595.50,87.19 598.42,88.09 601.35,89.01 604.27,89.93 607.20,90.85 610.12,91.79 613.05,92.73 615.97,93.67 618.90,94.62 621.82,95.57 624.74,96.52 627.67,97.47 630.59,98.42 633.52,99.37 636.44,100.32 639.37,101.26 642.29,102.21 645.22,103.15 648.14,104.08 651.07,105.01 653.99,105.93 656.92,106.85 659.84,107.76 662.77,108.66 665.69,109.56 668.62,110.44 671.54,111.32 674.47,112.19 677.39,113.05 680.32,113.90 683.24,114.74 686.17,115.57 689.09,116.39 692.02,117.20 694.94,118.00"/>
<polyline stroke="#00FF00" points="519.45,34.02 522.41,34.22 525.37,34.59 528.33,35.12 531.29,35.78 534.25,36.57 537.21,37.49 540.17,38.51 543.13,39.65 546.09,40.88 549.05,42.20 552.01,43.61 554.97,45.10 557.93,46.66 560.89,48.28 563.85,49.96 566.81,51.70 569.77,53.48 572.73,55.30 575.69,57.15 578.65,59.04 581.61,60.95 584.57,62.87 587.53,64.81 590.49,66.75 593.45,68.70 596.41,70.65 599.37,72.59 602.33,74.53 605.29,76.45 608.25,78.35 611.21,80.24 614.17,82.10 617.13,83.94 620.09,85.75 623.05,87.53 626.01,89.27 628.97,90.99 631.93,92.66 634.89,94.30 637.85,95.90 640.81,97.46 643.77,98.98 646.73,100.46 649.69,101.90 652.65,103.29 655.61,104.65 658.57,105.96 661.53,107.23 664.49,108.45 667.45,109.63 670.41,110.78 673.37,111.88 676.33,112.94 679.29,113.96 682.25,114.94 685.21,115.88 688.17,116.79 691.13,117.66 694.09,118.50 697.05,119.30"/>
<polyline stroke="#996633" points="519.45,55.53 522.49,55.65 525.53,55.87 528.56,56.19 531.60,56.59 534.64,57.09 537.67,57.66 540.71,58.31 543.75,59.03 546.78,59.82 549.82,60.68 552.86,61.60 555.89,62.57 558.93,63.60 561.97,64.68 565.00,65.81 568.04,66.99 571.08,68.20 574.11,69.45 577.15,70.73 580.19,72.04 583.22,73.38 586.26,74.74 589.30,76.12 592.34,77.52 595.37,78.93 598.41,80.35 601.45,81.77 604.48,83.21 607.52,84.64 610.56,86.07 613.59,87.50 616.63,88.92 619.67,90.34 622.70,91.74 625.74,93.14 628.78,94.52 631.81,95.88 634.85,97.22 637.89,98.55 640.92,99.86 643.96,101.14 647.00,102.40 650.03,103.64 653.07,104.86 656.11,106.04 659.14,107.21 662.18,108.34 665.22,109.45 668.26,110.53 671.29,111.58 674.33,112.61 677.37,113.60 680.40,114.57 683.44,115.52 686.48,116.43 689.51,117.32 692.55,118.17 695.59,119.01 698.62,119.81 701.66,120.59"/>
<polyline stroke="#800080" points="519.45,44.65 522.50,44.79 525.54,45.07 528.59,45.48 531.64,46.00 534.68,46.64 537.73,47.38 540.78,48.23 543.82,49.17 546.87,50.19 549.92,51.31 552.96,52.50 556.01,53.76 559.06,55.09 562.10,56.49 565.15,57.94 568.19,59.45 571.24,61.00 574.29,62.59 577.33,64.22 580.38,65.88 583.43,67.57 586.47,69.28 589.52,71.01 592.57,72.75 595.61,74.49 598.66,76.24 601.70,77.99 604.75,79.74 607.80,81.48 610.84,83.21 613.89,84.92 616.94,86.61 619.98,88.29 623.03,89.94 626.08,91.57 629.12,93.17 632.17,94.74 635.22,96.28 638.26,97.79 641.31,99.26 644.35,100.69 647.40,102.09 650.45,103.46 653.49,104.78 656.54,106.07 659.59,107.32 662.63,108.53 665.68,109.70 668.73,110.83 671.77,111.92 674.82,112.98 677.86,113.99 680.91,114.97 683.96,115.92 687.00,116.83 690.05,117.70 693.10,118.53 696.14,119.34 699.19,120.11 702.24,120.85"/>
<polyline stroke="#FF8000" points="519.45,5.80 522.53,6.28 525.62,7.09 528.70,8.19 531.78,9.54 534.86,11.10 537.94,12.85 541.02,14.78 544.10,16.87 547.19,19.10 550.27,21.45 553.35,23.91 556.43,26.46 559.51,29.10 562.59,31.80 565.68,34.56 568.76,37.37 571.84,40.21 574.92,43.07 578.00,45.95 581.08,48.83 584.17,51.71 587.25,54.58 590.33,57.43 593.41,60.26 596.49,63.05 599.57,65.81 602.66,68.52 605.74,71.19 608.82,73.81 611.90,76.37 614.98,78.87 618.06,81.31 621.14,83.69 624.23,86.01 627.31,88.26 630.39,90.44 633.47,92.55 636.55,94.60 639.63,96.57 642.72,98.48 645.80,100.32 648.88,102.09 651.96,103.80 655.04,105.43 658.12,107.01 661.21,108.52 664.29,109.96 667.37,111.35 670.45,112.68 673.53,113.95 676.61,115.17 679.70,116.33 682.78,117.45 685.86,118.51 688.94,119.52 692.02,120.49 695.10,121.42 698.18,122.31 701.27,123.15 704.35,123.96"/>
<polyline stroke="#FF00FF" points="519.45,109.16 522.67,109.17 525.89,109.19 529.11,109.21 532.33,109.24 535.55,109.28 538.77,109.33 541.99,109.39 545.21,109.45 548.42,109.52 551.64,109.59 554.86,109.67 558.08,109.76 561.30,109.86 564.52,109.96 567.74,110.07 570.96,110.18 574.18,110.30 577.40,110.43 580.62,110.56 583.84,110.70 587.06,110.85 590.27,111.00 593.49,111.16 596.71,111.32 599.93,111.49 603.15,111.67 606.37,111.85 609.59,112.04 612.81,112.23 616.03,112.43 619.25,112.64 622.47,112.85 625.69,113.07 628.90,113.29 632.12,113.52 635.34,113.76 638.56,114.00 641.78,114.25 645.00,114.50 648.22,114.76 651.44,115.02 654.66,115.29 657.88,115.57 661.10,115.85 664.32,116.14 667.54,116.43 670.75,116.73 673.97,117.03 677.19,117.34 680.41,117.66 683.63,117.98 686.85,118.30 690.07,118.63 693.29,118.97 696.51,119.31 699.73,119.66 702.95,120.02 706.17,120.38 709.38,120.74 712.60,121.11"/>
<polyline stroke="#0000FF" points="519.45,99.74 522.81,99.83 526.17,99.96 529.52,100.11 532.88,100.28 536.24,100.47 539.59,100.67 542.95,100.89 546.31,101.12 549.66,101.37 553.02,101.62 556.38,101.89 559.73,102.17 563.09,102.45 566.45,102.75 569.80,103.06 573.16,103.37 576.52,103.69 579.87,104.03 583.23,104.36 586.59,104.71 589.94,105.07 593.30,105.43 596.66,105.80 600.02,106.18 603.37,106.56 606.73,106.95 610.09,107.35 613.44,107.75 616.80,108.16 620.16,108.58 623.51,109.00 626.87,109.43 630.23,109.87 633.58,110.31 636.94,110.76 640.30,111.21 643.65,111.67 647.01,112.14 650.37,112.61 653.72,113.09 657.08,113.57 660.44,114.06 663.79,114.55 667.15,115.05 670.51,115.55 673.86,116.06 677.22,116.57 680.58,117.09 683.94,117.62 687.29,118.14 690.65,118.68 694.01,119.22 697.36,119.76 700.72,120.31 704.08,120.86 707.43,121.42 710.79,121.99 714.15,122.55 717.50,123.13 720.86,123.70"/>
</g>
<rect x="515.40" y="0.40" width="208.60" height="129.60" fill="none" stroke="#b4b4b4" stroke-width="0.9"/>
<path d="M518.30 130.00v-3.00M518.30 0.40v3.00M527.90 130.00v-1.60M527.90 0.40v1.60M537.50 130.00v-1.60M537.50 0.40v1.60M547.10 130.00v-1.60M547.10 0.40v1.60M556.70 130.00v-3.00M556.70 0.40v3.00M566.30 130.00v-1.60M566.30 0.40v1.60M575.90 130.00v-1.60M575.90 0.40v1.60M585.50 130.00v-1.60M585.50 0.40v1.60M595.10 130.00v-3.00M595.10 0.40v3.00M604.70 130.00v-1.60M604.70 0.40v1.60M614.30 130.00v-1.60M614.30 0.40v1.60M623.90 130.00v-1.60M623.90 0.40v1.60M633.50 130.00v-3.00M633.50 0.40v3.00M643.10 130.00v-1.60M643.10 0.40v1.60M652.70 130.00v-1.60M652.70 0.40v1.60M662.30 130.00v-1.60M662.30 0.40v1.60M671.90 130.00v-3.00M671.90 0.40v3.00M681.50 130.00v-1.60M681.50 0.40v1.60M691.10 130.00v-1.60M691.10 0.40v1.60M700.70 130.00v-1.60M700.70 0.40v1.60M710.30 130.00v-3.00M710.30 0.40v3.00M719.90 130.00v-1.60M719.90 0.40v1.60M515.40 128.37h1.60M724.00 128.37h-1.60M515.40 123.18h1.60M724.00 123.18h-1.60M515.40 118.00h3.00M724.00 118.00h-3.00M515.40 112.81h1.60M724.00 112.81h-1.60M515.40 107.63h1.60M724.00 107.63h-1.60M515.40 102.44h1.60M724.00 102.44h-1.60M515.40 97.26h1.60M724.00 97.26h-1.60M515.40 92.07h3.00M724.00 92.07h-3.00M515.40 86.89h1.60M724.00 86.89h-1.60M515.40 81.70h1.60M724.00 81.70h-1.60M515.40 76.52h1.60M724.00 76.52h-1.60M515.40 71.33h1.60M724.00 71.33h-1.60M515.40 66.15h3.00M724.00 66.15h-3.00M515.40 60.96h1.60M724.00 60.96h-1.60M515.40 55.78h1.60M724.00 55.78h-1.60M515.40 50.59h1.60M724.00 50.59h-1.60M515.40 45.41h1.60M724.00 45.41h-1.60M515.40 40.22h3.00M724.00 40.22h-3.00M515.40 35.04h1.60M724.00 35.04h-1.60M515.40 29.85h1.60M724.00 29.85h-1.60M515.40 24.67h1.60M724.00 24.67h-1.60M515.40 19.48h1.60M724.00 19.48h-1.60M515.40 14.30h3.00M724.00 14.30h-3.00M515.40 9.11h1.60M724.00 9.11h-1.60M515.40 3.93h1.60M724.00 3.93h-1.60" stroke="#8a8a8a" stroke-width="0.8" fill="none"/>
<g font-family="Liberation Sans, sans-serif" font-size="6.3" fill="#1a1a1a" stroke="#2a2a2a" stroke-width="0.2"><text x="518.30" y="137.30" text-anchor="middle">0</text><text x="556.70" y="137.30" text-anchor="middle">2</text><text x="595.10" y="137.30" text-anchor="middle">4</text><text x="633.50" y="137.30" text-anchor="middle">6</text><text x="671.90" y="137.30" text-anchor="middle">8</text><text x="710.30" y="137.30" text-anchor="middle">10</text><text x="513.50" y="120.20" text-anchor="end">0.01</text><text x="513.50" y="94.28" text-anchor="end">0.02</text><text x="513.50" y="68.35" text-anchor="end">0.03</text><text x="513.50" y="42.43" text-anchor="end">0.04</text><text x="513.50" y="16.50" text-anchor="end">0.05</text></g>
<text x="620.00" y="147.40" text-anchor="middle" font-family="Liberation Sans, sans-serif" font-weight="bold" font-size="6.2" fill="#000" stroke="#000" stroke-width="0.15"><tspan font-style="italic">r</tspan> [km]</text>
<text transform="translate(494.60 45.00) rotate(-90)" text-anchor="end" font-family="Liberation Sans, sans-serif" font-weight="bold" font-size="6.1" fill="#000" stroke="#000" stroke-width="0.12"><tspan font-style="italic">&#961;</tspan><tspan>-</tspan><tspan font-style="italic">p</tspan><tspan font-size="4.2" dy="0.90">t</tspan><tspan dy="-0.90"> [MeV/fm</tspan><tspan font-size="4.2" dy="-3.00">3</tspan><tspan dy="3.00">]</tspan></text>
<path d="M670.20 5.30H683.80" stroke="#00FF00" stroke-width="1.5"/>
<text x="687.20" y="8.30" font-family="Liberation Sans, sans-serif" font-style="italic" font-size="6.7" fill="#2a2a2a" stroke="#2a2a2a" stroke-width="0.25">S<tspan font-size="4.5" dx="0.1" dy="1.0" stroke-width="0.2">7</tspan></text>
<path d="M697.20 7.30H710.80" stroke="#000000" stroke-width="1.5"/>
<text x="714.20" y="10.30" font-family="Liberation Sans, sans-serif" font-style="italic" font-size="6.7" fill="#2a2a2a" stroke="#2a2a2a" stroke-width="0.25">S<tspan font-size="4.5" dx="0.1" dy="1.0" stroke-width="0.2">1</tspan></text>
<path d="M670.20 23.40H683.80" stroke="#996633" stroke-width="1.5"/>
<text x="687.20" y="26.40" font-family="Liberation Sans, sans-serif" font-style="italic" font-size="6.7" fill="#2a2a2a" stroke="#2a2a2a" stroke-width="0.25">S<tspan font-size="4.5" dx="0.1" dy="1.0" stroke-width="0.2">8</tspan></text>
<path d="M697.20 25.40H710.80" stroke="#FF8080" stroke-width="1.5"/>
<text x="714.20" y="28.40" font-family="Liberation Sans, sans-serif" font-style="italic" font-size="6.7" fill="#2a2a2a" stroke="#2a2a2a" stroke-width="0.25">S<tspan font-size="4.5" dx="0.1" dy="1.0" stroke-width="0.2">2</tspan></text>
<path d="M670.20 41.50H683.80" stroke="#800080" stroke-width="1.5"/>
<text x="687.20" y="44.50" font-family="Liberation Sans, sans-serif" font-style="italic" font-size="6.7" fill="#2a2a2a" stroke="#2a2a2a" stroke-width="0.25">S<tspan font-size="4.5" dx="0.1" dy="1.0" stroke-width="0.2">9</tspan></text>
<path d="M697.20 43.50H710.80" stroke="#FFFF00" stroke-width="1.5"/>
<text x="714.20" y="46.50" font-family="Liberation Sans, sans-serif" font-style="italic" font-size="6.7" fill="#2a2a2a" stroke="#2a2a2a" stroke-width="0.25">S<tspan font-size="4.5" dx="0.1" dy="1.0" stroke-width="0.2">3</tspan></text>
<path d="M670.20 59.60H683.80" stroke="#FF8000" stroke-width="1.5"/>
<text x="687.20" y="62.60" font-family="Liberation Sans, sans-serif" font-style="italic" font-size="6.7" fill="#2a2a2a" stroke="#2a2a2a" stroke-width="0.25">S<tspan font-size="4.5" dx="0.1" dy="1.0" stroke-width="0.2">10</tspan></text>
<path d="M697.20 61.60H710.80" stroke="#808080" stroke-width="1.5"/>
<text x="714.20" y="64.60" font-family="Liberation Sans, sans-serif" font-style="italic" font-size="6.7" fill="#2a2a2a" stroke="#2a2a2a" stroke-width="0.25">S<tspan font-size="4.5" dx="0.1" dy="1.0" stroke-width="0.2">4</tspan></text>
<path d="M670.20 77.70H683.80" stroke="#FF00FF" stroke-width="1.5"/>
<text x="687.20" y="80.70" font-family="Liberation Sans, sans-serif" font-style="italic" font-size="6.7" fill="#2a2a2a" stroke="#2a2a2a" stroke-width="0.25">S<tspan font-size="4.5" dx="0.1" dy="1.0" stroke-width="0.2">11</tspan></text>
<path d="M697.20 79.70H710.80" stroke="#00FFFF" stroke-width="1.5"/>
<text x="714.20" y="82.70" font-family="Liberation Sans, sans-serif" font-style="italic" font-size="6.7" fill="#2a2a2a" stroke="#2a2a2a" stroke-width="0.25">S<tspan font-size="4.5" dx="0.1" dy="1.0" stroke-width="0.2">5</tspan></text>
<path d="M670.20 95.80H683.80" stroke="#0000FF" stroke-width="1.5"/>
<text x="687.20" y="98.80" font-family="Liberation Sans, sans-serif" font-style="italic" font-size="6.7" fill="#2a2a2a" stroke="#2a2a2a" stroke-width="0.25">S<tspan font-size="4.5" dx="0.1" dy="1.0" stroke-width="0.2">12</tspan></text>
<path d="M697.20 97.80H710.80" stroke="#FF0000" stroke-width="1.5"/>
<text x="714.20" y="100.80" font-family="Liberation Sans, sans-serif" font-style="italic" font-size="6.7" fill="#2a2a2a" stroke="#2a2a2a" stroke-width="0.25">S<tspan font-size="4.5" dx="0.1" dy="1.0" stroke-width="0.2">6</tspan></text>
<clipPath id="c3"><rect x="27.10" y="153.40" width="209.20" height="129.50"/></clipPath>
<g clip-path="url(#c3)" fill="none" stroke-width="1.30" stroke-linejoin="round" stroke-linecap="butt">
<polyline stroke="#000000" points="31.05,256.27 33.91,256.27 36.77,256.28 39.63,256.29 42.50,256.32 45.36,256.35 48.22,256.38 51.08,256.42 53.94,256.47 56.80,256.53 59.66,256.60 62.52,256.67 65.38,256.76 68.24,256.85 71.10,256.95 73.96,257.05 76.82,257.17 79.69,257.30 82.55,257.43 85.41,257.58 88.27,257.73 91.13,257.89 93.99,258.06 96.85,258.25 99.71,258.44 102.57,258.64 105.43,258.85 108.29,259.07 111.15,259.30 114.02,259.54 116.88,259.79 119.74,260.05 122.60,260.32 125.46,260.60 128.32,260.89 131.18,261.19 134.04,261.50 136.90,261.82 139.76,262.15 142.62,262.49 145.48,262.85 148.34,263.21 151.21,263.58 154.07,263.97 156.93,264.36 159.79,264.77 162.65,265.19 165.51,265.62 168.37,266.06 171.23,266.51 174.09,266.97 176.95,267.44 179.81,267.92 182.67,268.42 185.54,268.93 188.40,269.44 191.26,269.97 194.12,270.51 196.98,271.06 199.84,271.63 202.70,272.20"/>
<polyline stroke="#FF8080" points="31.05,256.08 33.96,256.09 36.87,256.10 39.78,256.11 42.69,256.13 45.60,256.16 48.50,256.19 51.41,256.24 54.32,256.29 57.23,256.34 60.14,256.41 63.05,256.48 65.96,256.56 68.87,256.65 71.78,256.75 74.68,256.85 77.59,256.97 80.50,257.09 83.41,257.22 86.32,257.36 89.23,257.51 92.14,257.67 95.05,257.84 97.95,258.02 100.86,258.20 103.77,258.40 106.68,258.60 109.59,258.82 112.50,259.04 115.41,259.28 118.32,259.52 121.22,259.77 124.13,260.04 127.04,260.31 129.95,260.60 132.86,260.89 135.77,261.19 138.68,261.51 141.59,261.83 144.50,262.17 147.40,262.51 150.31,262.87 153.22,263.23 156.13,263.61 159.04,263.99 161.95,264.39 164.86,264.80 167.77,265.22 170.67,265.65 173.58,266.09 176.49,266.54 179.40,267.00 182.31,267.47 185.22,267.96 188.13,268.45 191.04,268.96 193.94,269.47 196.85,270.00 199.76,270.54 202.67,271.09 205.58,271.65"/>
<polyline stroke="#FFFF00" points="31.05,261.76 33.62,261.76 36.20,261.77 38.77,261.78 41.34,261.79 43.92,261.81 46.49,261.83 49.06,261.85 51.63,261.88 54.21,261.91 56.78,261.94 59.35,261.98 61.93,262.02 64.50,262.07 67.07,262.12 69.64,262.17 72.22,262.23 74.79,262.29 77.36,262.35 79.94,262.42 82.51,262.49 85.08,262.57 87.65,262.65 90.23,262.74 92.80,262.83 95.37,262.92 97.94,263.02 100.52,263.12 103.09,263.23 105.66,263.34 108.24,263.45 110.81,263.57 113.38,263.70 115.95,263.82 118.53,263.95 121.10,264.09 123.67,264.23 126.25,264.37 128.82,264.52 131.39,264.68 133.96,264.83 136.54,265.00 139.11,265.16 141.68,265.33 144.26,265.51 146.83,265.69 149.40,265.87 151.97,266.06 154.55,266.25 157.12,266.45 159.69,266.65 162.26,266.85 164.84,267.06 167.41,267.28 169.98,267.50 172.56,267.72 175.13,267.95 177.70,268.18 180.27,268.42 182.85,268.66 185.42,268.90"/>
<polyline stroke="#808080" points="31.05,250.96 33.70,250.99 36.34,251.03 38.98,251.10 41.62,251.18 44.27,251.27 46.91,251.37 49.55,251.49 52.20,251.62 54.84,251.76 57.48,251.91 60.13,252.07 62.77,252.24 65.41,252.42 68.06,252.61 70.70,252.81 73.34,253.02 75.99,253.23 78.63,253.46 81.27,253.70 83.92,253.94 86.56,254.19 89.20,254.45 91.85,254.72 94.49,255.00 97.13,255.29 99.78,255.58 102.42,255.88 105.06,256.19 107.70,256.51 110.35,256.83 112.99,257.16 115.63,257.50 118.28,257.85 120.92,258.21 123.56,258.57 126.21,258.94 128.85,259.31 131.49,259.70 134.14,260.09 136.78,260.48 139.42,260.89 142.07,261.30 144.71,261.71 147.35,262.14 150.00,262.57 152.64,263.01 155.28,263.45 157.93,263.90 160.57,264.36 163.21,264.83 165.86,265.30 168.50,265.77 171.14,266.26 173.78,266.75 176.43,267.24 179.07,267.75 181.71,268.26 184.36,268.77 187.00,269.29 189.64,269.82"/>
<polyline stroke="#00FFFF" points="31.05,240.89 33.86,240.93 36.67,241.02 39.48,241.14 42.29,241.28 45.10,241.46 47.91,241.66 50.72,241.89 53.53,242.14 56.34,242.42 59.15,242.71 61.96,243.03 64.77,243.37 67.58,243.73 70.39,244.11 73.20,244.50 76.01,244.91 78.82,245.34 81.62,245.78 84.43,246.24 87.24,246.72 90.05,247.20 92.86,247.70 95.67,248.21 98.48,248.74 101.29,249.27 104.10,249.81 106.91,250.37 109.72,250.93 112.53,251.50 115.34,252.07 118.15,252.66 120.96,253.25 123.77,253.84 126.58,254.44 129.39,255.05 132.20,255.66 135.01,256.27 137.82,256.89 140.63,257.50 143.44,258.12 146.25,258.74 149.06,259.36 151.86,259.99 154.67,260.61 157.48,261.23 160.29,261.85 163.10,262.46 165.91,263.08 168.72,263.69 171.53,264.30 174.34,264.91 177.15,265.52 179.96,266.12 182.77,266.71 185.58,267.31 188.39,267.89 191.20,268.47 194.01,269.05 196.82,269.62 199.63,270.19"/>
<polyline stroke="#FF0000" points="31.05,229.17 33.98,229.27 36.90,229.44 39.83,229.66 42.75,229.94 45.68,230.27 48.60,230.64 51.53,231.05 54.45,231.50 57.38,231.99 60.30,232.51 63.22,233.06 66.15,233.65 69.07,234.26 72.00,234.90 74.92,235.56 77.85,236.25 80.77,236.96 83.70,237.69 86.62,238.44 89.55,239.21 92.47,239.99 95.40,240.79 98.32,241.61 101.25,242.43 104.17,243.27 107.10,244.12 110.02,244.98 112.95,245.84 115.87,246.71 118.80,247.59 121.72,248.47 124.65,249.36 127.57,250.25 130.50,251.14 133.42,252.03 136.34,252.92 139.27,253.81 142.19,254.70 145.12,255.59 148.04,256.47 150.97,257.35 153.89,258.22 156.82,259.09 159.74,259.96 162.67,260.81 165.59,261.66 168.52,262.51 171.44,263.34 174.37,264.17 177.29,264.98 180.22,265.79 183.14,266.59 186.07,267.37 188.99,268.15 191.92,268.91 194.84,269.67 197.77,270.41 200.69,271.14 203.62,271.86 206.54,272.57"/>
<polyline stroke="#00FF00" points="31.05,192.36 34.01,192.52 36.97,192.84 39.93,193.30 42.89,193.89 45.85,194.60 48.81,195.44 51.77,196.38 54.73,197.43 57.69,198.58 60.65,199.82 63.61,201.15 66.57,202.57 69.53,204.06 72.49,205.61 75.45,207.23 78.41,208.91 81.37,210.64 84.33,212.41 87.29,214.22 90.25,216.06 93.21,217.93 96.17,219.82 99.13,221.73 102.09,223.64 105.05,225.56 108.01,227.48 110.97,229.40 113.93,231.30 116.89,233.19 119.85,235.06 122.81,236.91 125.77,238.73 128.73,240.52 131.69,242.28 134.65,244.01 137.61,245.70 140.57,247.35 143.53,248.95 146.49,250.52 149.45,252.04 152.41,253.51 155.37,254.93 158.33,256.31 161.29,257.64 164.25,258.92 167.21,260.16 170.17,261.34 173.13,262.47 176.09,263.56 179.05,264.60 182.01,265.59 184.97,266.54 187.93,267.44 190.89,268.30 193.85,269.11 196.81,269.88 199.77,270.61 202.73,271.30 205.69,271.95 208.65,272.57"/>
<polyline stroke="#996633" points="31.05,213.78 34.09,213.89 37.13,214.09 40.16,214.38 43.20,214.76 46.24,215.22 49.27,215.75 52.31,216.36 55.35,217.04 58.38,217.78 61.42,218.59 64.46,219.46 67.49,220.38 70.53,221.36 73.57,222.39 76.60,223.46 79.64,224.57 82.68,225.73 85.71,226.91 88.75,228.13 91.79,229.38 94.82,230.65 97.86,231.95 100.90,233.26 103.94,234.58 106.97,235.92 110.01,237.27 113.05,238.62 116.08,239.97 119.12,241.32 122.16,242.67 125.19,244.02 128.23,245.35 131.27,246.68 134.30,247.99 137.34,249.29 140.38,250.57 143.41,251.84 146.45,253.08 149.49,254.30 152.52,255.50 155.56,256.67 158.60,257.82 161.63,258.94 164.67,260.03 167.71,261.10 170.74,262.13 173.78,263.14 176.82,264.12 179.86,265.07 182.89,265.98 185.93,266.87 188.97,267.72 192.00,268.55 195.04,269.34 198.08,270.10 201.11,270.84 204.15,271.54 207.19,272.22 210.22,272.87 213.26,273.48"/>
<polyline stroke="#800080" points="31.05,202.06 34.10,202.18 37.14,202.43 40.19,202.80 43.24,203.27 46.28,203.86 49.33,204.54 52.38,205.33 55.42,206.21 58.47,207.18 61.52,208.23 64.56,209.36 67.61,210.57 70.66,211.85 73.70,213.20 76.75,214.60 79.79,216.06 82.84,217.57 85.89,219.12 88.93,220.71 91.98,222.33 95.03,223.98 98.07,225.65 101.12,227.34 104.17,229.05 107.21,230.76 110.26,232.47 113.30,234.19 116.35,235.89 119.40,237.59 122.44,239.28 125.49,240.94 128.54,242.59 131.58,244.21 134.63,245.81 137.68,247.38 140.72,248.91 143.77,250.41 146.82,251.87 149.86,253.30 152.91,254.68 155.95,256.03 159.00,257.33 162.05,258.59 165.09,259.81 168.14,260.98 171.19,262.11 174.23,263.20 177.28,264.24 180.33,265.23 183.37,266.19 186.42,267.10 189.46,267.96 192.51,268.79 195.56,269.58 198.60,270.32 201.65,271.03 204.70,271.69 207.74,272.33 210.79,272.92 213.84,273.48"/>
<polyline stroke="#FF8000" points="31.05,158.51 34.13,158.94 37.22,159.70 40.30,160.74 43.38,162.02 46.46,163.53 49.54,165.24 52.62,167.13 55.70,169.19 58.79,171.39 61.87,173.73 64.95,176.19 68.03,178.76 71.11,181.41 74.19,184.14 77.28,186.94 80.36,189.79 83.44,192.68 86.52,195.60 89.60,198.54 92.68,201.48 95.77,204.43 98.85,207.36 101.93,210.28 105.01,213.17 108.09,216.03 111.17,218.85 114.26,221.62 117.34,224.34 120.42,227.00 123.50,229.60 126.58,232.14 129.66,234.61 132.74,237.00 135.83,239.33 138.91,241.58 141.99,243.75 145.07,245.84 148.15,247.86 151.23,249.79 154.32,251.65 157.40,253.43 160.48,255.13 163.56,256.75 166.64,258.30 169.72,259.77 172.81,261.17 175.89,262.50 178.97,263.76 182.05,264.95 185.13,266.07 188.21,267.14 191.30,268.14 194.38,269.08 197.46,269.96 200.54,270.79 203.62,271.57 206.70,272.30 209.78,272.99 212.87,273.62 215.95,274.22"/>
<polyline stroke="#FF00FF" points="31.05,263.06 34.27,263.07 37.49,263.09 40.71,263.12 43.93,263.15 47.15,263.20 50.37,263.25 53.59,263.31 56.81,263.37 60.02,263.45 63.24,263.53 66.46,263.62 69.68,263.71 72.90,263.81 76.12,263.92 79.34,264.04 82.56,264.16 85.78,264.29 89.00,264.42 92.22,264.57 95.44,264.72 98.66,264.87 101.87,265.03 105.09,265.20 108.31,265.37 111.53,265.56 114.75,265.74 117.97,265.94 121.19,266.14 124.41,266.34 127.63,266.55 130.85,266.77 134.07,267.00 137.29,267.23 140.50,267.46 143.72,267.70 146.94,267.95 150.16,268.21 153.38,268.47 156.60,268.73 159.82,269.01 163.04,269.29 166.26,269.57 169.48,269.86 172.70,270.16 175.92,270.46 179.14,270.77 182.35,271.08 185.57,271.40 188.79,271.73 192.01,272.06 195.23,272.39 198.45,272.74 201.67,273.08 204.89,273.44 208.11,273.80 211.33,274.16 214.55,274.53 217.77,274.91 220.98,275.29 224.20,275.68"/>
<polyline stroke="#0000FF" points="31.05,254.18 34.41,254.27 37.77,254.40 41.12,254.55 44.48,254.73 47.84,254.92 51.19,255.13 54.55,255.35 57.91,255.58 61.26,255.82 64.62,256.07 67.98,256.34 71.33,256.61 74.69,256.90 78.05,257.19 81.40,257.49 84.76,257.79 88.12,258.11 91.47,258.43 94.83,258.76 98.19,259.10 101.54,259.44 104.90,259.79 108.26,260.14 111.62,260.51 114.97,260.87 118.33,261.25 121.69,261.63 125.04,262.01 128.40,262.40 131.76,262.80 135.11,263.20 138.47,263.61 141.83,264.02 145.18,264.44 148.54,264.86 151.90,265.28 155.25,265.71 158.61,266.15 161.97,266.59 165.32,267.03 168.68,267.48 172.04,267.94 175.39,268.39 178.75,268.86 182.11,269.32 185.46,269.79 188.82,270.27 192.18,270.74 195.54,271.23 198.89,271.71 202.25,272.20 205.61,272.70 208.96,273.19 212.32,273.70 215.68,274.20 219.03,274.71 222.39,275.22 225.75,275.74 229.10,276.26 232.46,276.78"/>
</g>
<rect x="27.10" y="153.40" width="209.20" height="129.50" fill="none" stroke="#b4b4b4" stroke-width="0.9"/>
<path d="M29.90 282.90v-3.00M29.90 153.40v3.00M39.50 282.90v-1.60M39.50 153.40v1.60M49.10 282.90v-1.60M49.10 153.40v1.60M58.70 282.90v-1.60M58.70 153.40v1.60M68.30 282.90v-3.00M68.30 153.40v3.00M77.90 282.90v-1.60M77.90 153.40v1.60M87.50 282.90v-1.60M87.50 153.40v1.60M97.10 282.90v-1.60M97.10 153.40v1.60M106.70 282.90v-3.00M106.70 153.40v3.00M116.30 282.90v-1.60M116.30 153.40v1.60M125.90 282.90v-1.60M125.90 153.40v1.60M135.50 282.90v-1.60M135.50 153.40v1.60M145.10 282.90v-3.00M145.10 153.40v3.00M154.70 282.90v-1.60M154.70 153.40v1.60M164.30 282.90v-1.60M164.30 153.40v1.60M173.90 282.90v-1.60M173.90 153.40v1.60M183.50 282.90v-3.00M183.50 153.40v3.00M193.10 282.90v-1.60M193.10 153.40v1.60M202.70 282.90v-1.60M202.70 153.40v1.60M212.30 282.90v-1.60M212.30 153.40v1.60M221.90 282.90v-3.00M221.90 153.40v3.00M231.50 282.90v-1.60M231.50 153.40v1.60M27.10 281.73h1.60M236.30 281.73h-1.60M27.10 278.06h1.60M236.30 278.06h-1.60M27.10 274.40h3.00M236.30 274.40h-3.00M27.10 270.74h1.60M236.30 270.74h-1.60M27.10 267.07h1.60M236.30 267.07h-1.60M27.10 263.41h1.60M236.30 263.41h-1.60M27.10 259.75h1.60M236.30 259.75h-1.60M27.10 256.08h3.00M236.30 256.08h-3.00M27.10 252.42h1.60M236.30 252.42h-1.60M27.10 248.76h1.60M236.30 248.76h-1.60M27.10 245.09h1.60M236.30 245.09h-1.60M27.10 241.43h1.60M236.30 241.43h-1.60M27.10 237.77h3.00M236.30 237.77h-3.00M27.10 234.10h1.60M236.30 234.10h-1.60M27.10 230.44h1.60M236.30 230.44h-1.60M27.10 226.78h1.60M236.30 226.78h-1.60M27.10 223.11h1.60M236.30 223.11h-1.60M27.10 219.45h3.00M236.30 219.45h-3.00M27.10 215.79h1.60M236.30 215.79h-1.60M27.10 212.12h1.60M236.30 212.12h-1.60M27.10 208.46h1.60M236.30 208.46h-1.60M27.10 204.80h1.60M236.30 204.80h-1.60M27.10 201.13h3.00M236.30 201.13h-3.00M27.10 197.47h1.60M236.30 197.47h-1.60M27.10 193.81h1.60M236.30 193.81h-1.60M27.10 190.14h1.60M236.30 190.14h-1.60M27.10 186.48h1.60M236.30 186.48h-1.60M27.10 182.82h3.00M236.30 182.82h-3.00M27.10 179.15h1.60M236.30 179.15h-1.60M27.10 175.49h1.60M236.30 175.49h-1.60M27.10 171.83h1.60M236.30 171.83h-1.60M27.10 168.16h1.60M236.30 168.16h-1.60M27.10 164.50h3.00M236.30 164.50h-3.00M27.10 160.84h1.60M236.30 160.84h-1.60M27.10 157.17h1.60M236.30 157.17h-1.60M27.10 153.51h1.60M236.30 153.51h-1.60" stroke="#8a8a8a" stroke-width="0.8" fill="none"/>
<g font-family="Liberation Sans, sans-serif" font-size="6.3" fill="#1a1a1a" stroke="#2a2a2a" stroke-width="0.2"><text x="29.90" y="290.20" text-anchor="middle">0</text><text x="68.30" y="290.20" text-anchor="middle">2</text><text x="106.70" y="290.20" text-anchor="middle">4</text><text x="145.10" y="290.20" text-anchor="middle">6</text><text x="183.50" y="290.20" text-anchor="middle">8</text><text x="221.90" y="290.20" text-anchor="middle">10</text><text x="25.20" y="276.60" text-anchor="end">0.01</text><text x="25.20" y="258.28" text-anchor="end">0.02</text><text x="25.20" y="239.97" text-anchor="end">0.03</text><text x="25.20" y="221.65" text-anchor="end">0.04</text><text x="25.20" y="203.33" text-anchor="end">0.05</text><text x="25.20" y="185.02" text-anchor="end">0.06</text><text x="25.20" y="166.70" text-anchor="end">0.07</text></g>
<text x="131.70" y="300.30" text-anchor="middle" font-family="Liberation Sans, sans-serif" font-weight="bold" font-size="6.2" fill="#000" stroke="#000" stroke-width="0.15"><tspan font-style="italic">r</tspan> [km]</text>
<text transform="translate(5.70 198.00) rotate(-90)" text-anchor="end" font-family="Liberation Sans, sans-serif" font-weight="bold" font-size="6.1" fill="#000" stroke="#000" stroke-width="0.12"><tspan font-style="italic">&#961;</tspan><tspan>+</tspan><tspan font-style="italic">p</tspan><tspan font-size="4.2" dy="0.90">r</tspan><tspan dy="-0.90"> [MeV/fm</tspan><tspan font-size="4.2" dy="-3.00">3</tspan><tspan dy="3.00">]</tspan></text>
<path d="M180.00 165.60H193.40" stroke="#00FF00" stroke-width="1.5"/>
<text x="196.80" y="168.60" font-family="Liberation Sans, sans-serif" font-style="italic" font-size="6.7" fill="#2a2a2a" stroke="#2a2a2a" stroke-width="0.25">S<tspan font-size="4.5" dx="0.1" dy="1.0" stroke-width="0.2">7</tspan></text>
<path d="M209.00 165.60H222.40" stroke="#000000" stroke-width="1.5"/>
<text x="225.80" y="168.60" font-family="Liberation Sans, sans-serif" font-style="italic" font-size="6.7" fill="#2a2a2a" stroke="#2a2a2a" stroke-width="0.25">S<tspan font-size="4.5" dx="0.1" dy="1.0" stroke-width="0.2">1</tspan></text>
<path d="M180.00 183.80H193.40" stroke="#996633" stroke-width="1.5"/>
<text x="196.80" y="186.80" font-family="Liberation Sans, sans-serif" font-style="italic" font-size="6.7" fill="#2a2a2a" stroke="#2a2a2a" stroke-width="0.25">S<tspan font-size="4.5" dx="0.1" dy="1.0" stroke-width="0.2">8</tspan></text>
<path d="M209.00 183.80H222.40" stroke="#FF8080" stroke-width="1.5"/>
<text x="225.80" y="186.80" font-family="Liberation Sans, sans-serif" font-style="italic" font-size="6.7" fill="#2a2a2a" stroke="#2a2a2a" stroke-width="0.25">S<tspan font-size="4.5" dx="0.1" dy="1.0" stroke-width="0.2">2</tspan></text>
<path d="M180.00 202.00H193.40" stroke="#800080" stroke-width="1.5"/>
<text x="196.80" y="205.00" font-family="Liberation Sans, sans-serif" font-style="italic" font-size="6.7" fill="#2a2a2a" stroke="#2a2a2a" stroke-width="0.25">S<tspan font-size="4.5" dx="0.1" dy="1.0" stroke-width="0.2">9</tspan></text>
<path d="M209.00 202.00H222.40" stroke="#FFFF00" stroke-width="1.5"/>
<text x="225.80" y="205.00" font-family="Liberation Sans, sans-serif" font-style="italic" font-size="6.7" fill="#2a2a2a" stroke="#2a2a2a" stroke-width="0.25">S<tspan font-size="4.5" dx="0.1" dy="1.0" stroke-width="0.2">3</tspan></text>
<path d="M180.00 220.20H193.40" stroke="#FF8000" stroke-width="1.5"/>
<text x="196.80" y="223.20" font-family="Liberation Sans, sans-serif" font-style="italic" font-size="6.7" fill="#2a2a2a" stroke="#2a2a2a" stroke-width="0.25">S<tspan font-size="4.5" dx="0.1" dy="1.0" stroke-width="0.2">10</tspan></text>
<path d="M209.00 220.20H222.40" stroke="#808080" stroke-width="1.5"/>
<text x="225.80" y="223.20" font-family="Liberation Sans, sans-serif" font-style="italic" font-size="6.7" fill="#2a2a2a" stroke="#2a2a2a" stroke-width="0.25">S<tspan font-size="4.5" dx="0.1" dy="1.0" stroke-width="0.2">4</tspan></text>
<path d="M180.00 238.40H193.40" stroke="#FF00FF" stroke-width="1.5"/>
<text x="196.80" y="241.40" font-family="Liberation Sans, sans-serif" font-style="italic" font-size="6.7" fill="#2a2a2a" stroke="#2a2a2a" stroke-width="0.25">S<tspan font-size="4.5" dx="0.1" dy="1.0" stroke-width="0.2">11</tspan></text>
<path d="M209.00 238.40H222.40" stroke="#00FFFF" stroke-width="1.5"/>
<text x="225.80" y="241.40" font-family="Liberation Sans, sans-serif" font-style="italic" font-size="6.7" fill="#2a2a2a" stroke="#2a2a2a" stroke-width="0.25">S<tspan font-size="4.5" dx="0.1" dy="1.0" stroke-width="0.2">5</tspan></text>
<path d="M180.00 256.60H193.40" stroke="#0000FF" stroke-width="1.5"/>
<text x="196.80" y="259.60" font-family="Liberation Sans, sans-serif" font-style="italic" font-size="6.7" fill="#2a2a2a" stroke="#2a2a2a" stroke-width="0.25">S<tspan font-size="4.5" dx="0.1" dy="1.0" stroke-width="0.2">12</tspan></text>
<path d="M209.00 256.60H222.40" stroke="#FF0000" stroke-width="1.5"/>
<text x="225.80" y="259.60" font-family="Liberation Sans, sans-serif" font-style="italic" font-size="6.7" fill="#2a2a2a" stroke="#2a2a2a" stroke-width="0.25">S<tspan font-size="4.5" dx="0.1" dy="1.0" stroke-width="0.2">6</tspan></text>
<clipPath id="c4"><rect x="271.00" y="153.40" width="209.80" height="129.40"/></clipPath>
<g clip-path="url(#c4)" fill="none" stroke-width="1.30" stroke-linejoin="round" stroke-linecap="butt">
<polyline stroke="#000000" points="275.15,257.40 278.01,257.41 280.87,257.42 283.72,257.43 286.58,257.45 289.44,257.48 292.30,257.51 295.16,257.55 298.01,257.60 300.87,257.66 303.73,257.72 306.59,257.80 309.44,257.88 312.30,257.96 315.16,258.06 318.02,258.17 320.88,258.28 323.73,258.40 326.59,258.53 329.45,258.67 332.31,258.82 335.17,258.98 338.02,259.15 340.88,259.33 343.74,259.51 346.60,259.71 349.45,259.91 352.31,260.13 355.17,260.35 358.03,260.59 360.89,260.83 363.74,261.09 366.60,261.35 369.46,261.62 372.32,261.91 375.17,262.20 378.03,262.51 380.89,262.82 383.75,263.15 386.61,263.48 389.46,263.83 392.32,264.18 395.18,264.55 398.04,264.93 400.89,265.32 403.75,265.72 406.61,266.12 409.47,266.55 412.33,266.98 415.18,267.42 418.04,267.87 420.90,268.34 423.76,268.81 426.62,269.30 429.47,269.79 432.33,270.30 435.19,270.82 438.05,271.35 440.90,271.89 443.76,272.45 446.62,273.01"/>
<polyline stroke="#FF8080" points="275.15,257.22 278.06,257.22 280.96,257.23 283.87,257.24 286.77,257.26 289.68,257.29 292.59,257.32 295.49,257.36 298.40,257.41 301.30,257.47 304.21,257.53 307.11,257.60 310.02,257.68 312.93,257.76 315.83,257.86 318.74,257.96 321.64,258.07 324.55,258.19 327.45,258.32 330.36,258.46 333.27,258.60 336.17,258.76 339.08,258.92 341.98,259.09 344.89,259.28 347.80,259.47 350.70,259.67 353.61,259.88 356.51,260.10 359.42,260.32 362.32,260.56 365.23,260.81 368.14,261.07 371.04,261.34 373.95,261.61 376.85,261.90 379.76,262.20 382.66,262.51 385.57,262.82 388.48,263.15 391.38,263.49 394.29,263.84 397.19,264.19 400.10,264.56 403.00,264.94 405.91,265.33 408.82,265.73 411.72,266.14 414.63,266.56 417.53,266.99 420.44,267.44 423.35,267.89 426.25,268.35 429.16,268.83 432.06,269.31 434.97,269.81 437.87,270.32 440.78,270.83 443.69,271.36 446.59,271.90 449.50,272.46"/>
<polyline stroke="#FFFF00" points="275.15,262.98 277.72,262.98 280.29,262.99 282.86,263.00 285.43,263.01 288.00,263.02 290.57,263.04 293.14,263.07 295.71,263.09 298.28,263.12 300.85,263.16 303.42,263.20 305.99,263.24 308.56,263.29 311.13,263.34 313.70,263.39 316.27,263.45 318.84,263.51 321.41,263.58 323.98,263.65 326.55,263.72 329.12,263.80 331.69,263.88 334.26,263.97 336.83,264.06 339.40,264.16 341.97,264.25 344.54,264.36 347.11,264.47 349.68,264.58 352.25,264.69 354.82,264.82 357.39,264.94 359.96,265.07 362.53,265.20 365.10,265.34 367.68,265.48 370.25,265.63 372.82,265.78 375.39,265.94 377.96,266.09 380.53,266.26 383.10,266.43 385.67,266.60 388.24,266.78 390.81,266.96 393.38,267.15 395.95,267.34 398.52,267.53 401.09,267.73 403.66,267.93 406.23,268.14 408.80,268.36 411.37,268.57 413.94,268.80 416.51,269.02 419.08,269.25 421.65,269.49 424.22,269.73 426.79,269.98 429.36,270.23"/>
<polyline stroke="#808080" points="275.15,252.02 277.79,252.05 280.43,252.09 283.07,252.16 285.71,252.23 288.35,252.32 290.99,252.43 293.63,252.54 296.27,252.67 298.91,252.81 301.56,252.95 304.20,253.11 306.84,253.28 309.48,253.45 312.12,253.64 314.76,253.83 317.40,254.04 320.04,254.25 322.68,254.47 325.32,254.70 327.96,254.94 330.60,255.18 333.24,255.44 335.88,255.70 338.52,255.97 341.16,256.24 343.80,256.53 346.44,256.82 349.08,257.12 351.72,257.43 354.36,257.74 357.00,258.06 359.65,258.39 362.29,258.73 364.93,259.07 367.57,259.42 370.21,259.77 372.85,260.14 375.49,260.51 378.13,260.88 380.77,261.26 383.41,261.65 386.05,262.05 388.69,262.45 391.33,262.86 393.97,263.27 396.61,263.69 399.25,264.12 401.89,264.55 404.53,264.99 407.17,265.44 409.81,265.89 412.45,266.35 415.09,266.81 417.73,267.28 420.38,267.76 423.02,268.24 425.66,268.73 428.30,269.22 430.94,269.72 433.58,270.23"/>
<polyline stroke="#00FFFF" points="275.15,241.80 277.96,241.85 280.76,241.93 283.57,242.05 286.38,242.19 289.18,242.36 291.99,242.56 294.80,242.79 297.60,243.04 300.41,243.31 303.22,243.60 306.02,243.91 308.83,244.24 311.64,244.59 314.44,244.96 317.25,245.34 320.06,245.75 322.86,246.16 325.67,246.60 328.48,247.04 331.28,247.50 334.09,247.97 336.90,248.46 339.70,248.95 342.51,249.46 345.32,249.97 348.12,250.50 350.93,251.03 353.74,251.57 356.54,252.12 359.35,252.68 362.16,253.24 364.96,253.80 367.77,254.38 370.58,254.95 373.38,255.53 376.19,256.11 379.00,256.69 381.80,257.28 384.61,257.87 387.42,258.45 390.22,259.04 393.03,259.63 395.84,260.22 398.64,260.80 401.45,261.39 404.26,261.97 407.06,262.55 409.87,263.12 412.68,263.69 415.48,264.26 418.29,264.83 421.10,265.39 423.90,265.94 426.71,266.49 429.52,267.04 432.32,267.58 435.13,268.11 437.94,268.64 440.74,269.16 443.55,269.67"/>
<polyline stroke="#FF0000" points="275.15,229.91 278.07,230.01 280.99,230.18 283.92,230.41 286.84,230.68 289.76,231.01 292.68,231.38 295.60,231.79 298.52,232.24 301.45,232.73 304.37,233.24 307.29,233.80 310.21,234.38 313.13,234.98 316.06,235.62 318.98,236.28 321.90,236.96 324.82,237.66 327.74,238.38 330.66,239.13 333.59,239.89 336.51,240.66 339.43,241.45 342.35,242.25 345.27,243.07 348.19,243.89 351.12,244.72 354.04,245.57 356.96,246.42 359.88,247.27 362.80,248.13 365.73,248.99 368.65,249.86 371.57,250.73 374.49,251.60 377.41,252.47 380.33,253.33 383.26,254.20 386.18,255.06 389.10,255.92 392.02,256.78 394.94,257.63 397.86,258.47 400.79,259.31 403.71,260.14 406.63,260.97 409.55,261.78 412.47,262.59 415.39,263.39 418.32,264.17 421.24,264.95 424.16,265.72 427.08,266.47 430.00,267.22 432.93,267.95 435.85,268.67 438.77,269.38 441.69,270.07 444.61,270.76 447.53,271.43 450.46,272.08"/>
<polyline stroke="#00FF00" points="275.15,192.56 278.11,192.73 281.06,193.05 284.02,193.51 286.98,194.10 289.94,194.82 292.89,195.66 295.85,196.60 298.81,197.66 301.76,198.81 304.72,200.06 307.68,201.39 310.63,202.80 313.59,204.29 316.55,205.85 319.50,207.47 322.46,209.15 325.42,210.88 328.38,212.65 331.33,214.46 334.29,216.30 337.25,218.16 340.20,220.05 343.16,221.94 346.12,223.85 349.07,225.76 352.03,227.67 354.99,229.57 357.94,231.46 360.90,233.33 363.86,235.18 366.82,237.01 369.77,238.81 372.73,240.58 375.69,242.31 378.64,244.01 381.60,245.67 384.56,247.28 387.51,248.86 390.47,250.38 393.43,251.86 396.38,253.30 399.34,254.68 402.30,256.01 405.26,257.29 408.21,258.52 411.17,259.70 414.13,260.83 417.08,261.91 420.04,262.94 423.00,263.92 425.95,264.85 428.91,265.73 431.87,266.56 434.82,267.35 437.78,268.09 440.74,268.78 443.70,269.44 446.65,270.05 449.61,270.62 452.57,271.15"/>
<polyline stroke="#996633" points="275.15,214.30 278.18,214.40 281.22,214.61 284.25,214.90 287.29,215.27 290.32,215.73 293.35,216.27 296.39,216.87 299.42,217.55 302.45,218.29 305.49,219.10 308.52,219.96 311.55,220.88 314.59,221.85 317.62,222.87 320.66,223.94 323.69,225.04 326.72,226.19 329.76,227.36 332.79,228.57 335.82,229.81 338.86,231.07 341.89,232.34 344.92,233.64 347.96,234.95 350.99,236.27 354.03,237.59 357.06,238.92 360.09,240.25 363.13,241.58 366.16,242.91 369.19,244.22 372.23,245.53 375.26,246.83 378.29,248.11 381.33,249.37 384.36,250.61 387.40,251.84 390.43,253.04 393.46,254.22 396.50,255.38 399.53,256.50 402.56,257.60 405.60,258.68 408.63,259.72 411.66,260.73 414.70,261.71 417.73,262.66 420.77,263.58 423.80,264.46 426.83,265.32 429.87,266.14 432.90,266.93 435.93,267.68 438.97,268.41 442.00,269.10 445.03,269.76 448.07,270.38 451.10,270.98 454.14,271.55 457.17,272.08"/>
<polyline stroke="#800080" points="275.15,202.41 278.19,202.53 281.24,202.78 284.28,203.15 287.32,203.62 290.37,204.21 293.41,204.89 296.45,205.68 299.50,206.56 302.54,207.53 305.58,208.58 308.63,209.71 311.67,210.92 314.71,212.20 317.76,213.54 320.80,214.94 323.84,216.39 326.89,217.89 329.93,219.44 332.97,221.02 336.02,222.63 339.06,224.27 342.10,225.93 345.15,227.61 348.19,229.30 351.23,231.00 354.27,232.69 357.32,234.39 360.36,236.08 363.40,237.75 366.45,239.41 369.49,241.05 372.53,242.67 375.58,244.26 378.62,245.83 381.66,247.36 384.71,248.86 387.75,250.32 390.79,251.74 393.84,253.13 396.88,254.47 399.92,255.77 402.97,257.02 406.01,258.23 409.05,259.39 412.10,260.51 415.14,261.58 418.18,262.60 421.23,263.58 424.27,264.51 427.31,265.40 430.36,266.24 433.40,267.03 436.44,267.78 439.49,268.49 442.53,269.16 445.57,269.78 448.61,270.37 451.66,270.92 454.70,271.43 457.74,271.90"/>
<polyline stroke="#FF8000" points="275.15,158.22 278.23,158.65 281.31,159.42 284.39,160.47 287.46,161.76 290.54,163.28 293.62,165.00 296.70,166.90 299.78,168.97 302.86,171.19 305.93,173.54 309.01,176.01 312.09,178.58 315.17,181.24 318.25,183.98 321.33,186.78 324.41,189.63 327.48,192.52 330.56,195.44 333.64,198.37 336.72,201.31 339.80,204.25 342.88,207.18 345.95,210.08 349.03,212.95 352.11,215.79 355.19,218.59 358.27,221.33 361.35,224.02 364.42,226.66 367.50,229.22 370.58,231.72 373.66,234.15 376.74,236.50 379.82,238.77 382.89,240.97 385.97,243.08 389.05,245.12 392.13,247.07 395.21,248.94 398.29,250.72 401.36,252.43 404.44,254.05 407.52,255.59 410.60,257.05 413.68,258.44 416.76,259.75 419.84,260.98 422.91,262.14 425.99,263.23 429.07,264.25 432.15,265.20 435.23,266.09 438.31,266.92 441.38,267.68 444.46,268.39 447.54,269.04 450.62,269.65 453.70,270.20 456.78,270.70 459.85,271.15"/>
<polyline stroke="#FF00FF" points="275.15,264.30 278.37,264.31 281.58,264.33 284.80,264.35 288.01,264.39 291.23,264.43 294.45,264.48 297.66,264.53 300.88,264.60 304.09,264.67 307.31,264.74 310.53,264.83 313.74,264.92 316.96,265.01 320.17,265.12 323.39,265.23 326.60,265.34 329.82,265.47 333.04,265.59 336.25,265.73 339.47,265.87 342.68,266.02 345.90,266.17 349.12,266.33 352.33,266.49 355.55,266.66 358.76,266.84 361.98,267.02 365.19,267.21 368.41,267.40 371.63,267.60 374.84,267.81 378.06,268.02 381.27,268.24 384.49,268.46 387.71,268.69 390.92,268.92 394.14,269.16 397.35,269.41 400.57,269.66 403.78,269.91 407.00,270.18 410.22,270.44 413.43,270.71 416.65,270.99 419.86,271.28 423.08,271.57 426.30,271.86 429.51,272.16 432.73,272.46 435.94,272.78 439.16,273.09 442.37,273.41 445.59,273.74 448.81,274.07 452.02,274.41 455.24,274.75 458.45,275.10 461.67,275.45 464.89,275.81 468.10,276.17"/>
<polyline stroke="#0000FF" points="275.15,255.28 278.50,255.38 281.86,255.51 285.21,255.66 288.56,255.83 291.92,256.02 295.27,256.23 298.62,256.44 301.98,256.67 305.33,256.91 308.68,257.16 312.04,257.42 315.39,257.68 318.74,257.96 322.10,258.24 325.45,258.53 328.80,258.83 332.16,259.13 335.51,259.44 338.86,259.76 342.22,260.08 345.57,260.41 348.92,260.75 352.28,261.09 355.63,261.43 358.98,261.78 362.34,262.14 365.69,262.50 369.04,262.86 372.40,263.23 375.75,263.61 379.10,263.99 382.46,264.37 385.81,264.76 389.16,265.15 392.52,265.54 395.87,265.94 399.22,266.35 402.58,266.75 405.93,267.16 409.28,267.58 412.64,268.00 415.99,268.42 419.34,268.84 422.70,269.27 426.05,269.70 429.40,270.14 432.76,270.58 436.11,271.02 439.46,271.46 442.82,271.91 446.17,272.36 449.52,272.81 452.88,273.27 456.23,273.73 459.58,274.19 462.94,274.66 466.29,275.12 469.64,275.59 473.00,276.07 476.35,276.54"/>
</g>
<rect x="271.00" y="153.40" width="209.80" height="129.40" fill="none" stroke="#b4b4b4" stroke-width="0.9"/>
<path d="M274.00 282.80v-3.00M274.00 153.40v3.00M283.59 282.80v-1.60M283.59 153.40v1.60M293.18 282.80v-1.60M293.18 153.40v1.60M302.77 282.80v-1.60M302.77 153.40v1.60M312.36 282.80v-3.00M312.36 153.40v3.00M321.95 282.80v-1.60M321.95 153.40v1.60M331.54 282.80v-1.60M331.54 153.40v1.60M341.13 282.80v-1.60M341.13 153.40v1.60M350.72 282.80v-3.00M350.72 153.40v3.00M360.31 282.80v-1.60M360.31 153.40v1.60M369.90 282.80v-1.60M369.90 153.40v1.60M379.49 282.80v-1.60M379.49 153.40v1.60M389.08 282.80v-3.00M389.08 153.40v3.00M398.67 282.80v-1.60M398.67 153.40v1.60M408.26 282.80v-1.60M408.26 153.40v1.60M417.85 282.80v-1.60M417.85 153.40v1.60M427.44 282.80v-3.00M427.44 153.40v3.00M437.03 282.80v-1.60M437.03 153.40v1.60M446.62 282.80v-1.60M446.62 153.40v1.60M456.21 282.80v-1.60M456.21 153.40v1.60M465.80 282.80v-3.00M465.80 153.40v3.00M475.39 282.80v-1.60M475.39 153.40v1.60M271.00 279.52h1.60M480.80 279.52h-1.60M271.00 275.80h3.00M480.80 275.80h-3.00M271.00 272.08h1.60M480.80 272.08h-1.60M271.00 268.37h1.60M480.80 268.37h-1.60M271.00 264.65h1.60M480.80 264.65h-1.60M271.00 260.93h1.60M480.80 260.93h-1.60M271.00 257.22h3.00M480.80 257.22h-3.00M271.00 253.50h1.60M480.80 253.50h-1.60M271.00 249.78h1.60M480.80 249.78h-1.60M271.00 246.07h1.60M480.80 246.07h-1.60M271.00 242.35h1.60M480.80 242.35h-1.60M271.00 238.63h3.00M480.80 238.63h-3.00M271.00 234.92h1.60M480.80 234.92h-1.60M271.00 231.20h1.60M480.80 231.20h-1.60M271.00 227.48h1.60M480.80 227.48h-1.60M271.00 223.77h1.60M480.80 223.77h-1.60M271.00 220.05h3.00M480.80 220.05h-3.00M271.00 216.33h1.60M480.80 216.33h-1.60M271.00 212.62h1.60M480.80 212.62h-1.60M271.00 208.90h1.60M480.80 208.90h-1.60M271.00 205.18h1.60M480.80 205.18h-1.60M271.00 201.47h3.00M480.80 201.47h-3.00M271.00 197.75h1.60M480.80 197.75h-1.60M271.00 194.03h1.60M480.80 194.03h-1.60M271.00 190.32h1.60M480.80 190.32h-1.60M271.00 186.60h1.60M480.80 186.60h-1.60M271.00 182.88h3.00M480.80 182.88h-3.00M271.00 179.17h1.60M480.80 179.17h-1.60M271.00 175.45h1.60M480.80 175.45h-1.60M271.00 171.73h1.60M480.80 171.73h-1.60M271.00 168.02h1.60M480.80 168.02h-1.60M271.00 164.30h3.00M480.80 164.30h-3.00M271.00 160.58h1.60M480.80 160.58h-1.60M271.00 156.87h1.60M480.80 156.87h-1.60" stroke="#8a8a8a" stroke-width="0.8" fill="none"/>
<g font-family="Liberation Sans, sans-serif" font-size="6.3" fill="#1a1a1a" stroke="#2a2a2a" stroke-width="0.2"><text x="274.00" y="290.10" text-anchor="middle">0</text><text x="312.36" y="290.10" text-anchor="middle">2</text><text x="350.72" y="290.10" text-anchor="middle">4</text><text x="389.08" y="290.10" text-anchor="middle">6</text><text x="427.44" y="290.10" text-anchor="middle">8</text><text x="465.80" y="290.10" text-anchor="middle">10</text><text x="269.10" y="278.00" text-anchor="end">0.01</text><text x="269.10" y="259.42" text-anchor="end">0.02</text><text x="269.10" y="240.83" text-anchor="end">0.03</text><text x="269.10" y="222.25" text-anchor="end">0.04</text><text x="269.10" y="203.67" text-anchor="end">0.05</text><text x="269.10" y="185.08" text-anchor="end">0.06</text><text x="269.10" y="166.50" text-anchor="end">0.07</text></g>
<text x="375.90" y="300.30" text-anchor="middle" font-family="Liberation Sans, sans-serif" font-weight="bold" font-size="6.2" fill="#000" stroke="#000" stroke-width="0.15"><tspan font-style="italic">r</tspan> [km]</text>
<text transform="translate(250.30 198.00) rotate(-90)" text-anchor="end" font-family="Liberation Sans, sans-serif" font-weight="bold" font-size="6.1" fill="#000" stroke="#000" stroke-width="0.12"><tspan font-style="italic">&#961;</tspan><tspan>+</tspan><tspan font-style="italic">p</tspan><tspan font-size="4.2" dy="0.90">t</tspan><tspan dy="-0.90"> [MeV/fm</tspan><tspan font-size="4.2" dy="-3.00">3</tspan><tspan dy="3.00">]</tspan></text>
<path d="M421.60 158.00H435.00" stroke="#00FF00" stroke-width="1.5"/>
<text x="438.40" y="161.00" font-family="Liberation Sans, sans-serif" font-style="italic" font-size="6.7" fill="#2a2a2a" stroke="#2a2a2a" stroke-width="0.25">S<tspan font-size="4.5" dx="0.1" dy="1.0" stroke-width="0.2">7</tspan></text>
<path d="M448.40 158.00H462.00" stroke="#000000" stroke-width="1.5"/>
<text x="465.40" y="161.00" font-family="Liberation Sans, sans-serif" font-style="italic" font-size="6.7" fill="#2a2a2a" stroke="#2a2a2a" stroke-width="0.25">S<tspan font-size="4.5" dx="0.1" dy="1.0" stroke-width="0.2">1</tspan></text>
<path d="M421.60 176.00H435.00" stroke="#996633" stroke-width="1.5"/>
<text x="438.40" y="179.00" font-family="Liberation Sans, sans-serif" font-style="italic" font-size="6.7" fill="#2a2a2a" stroke="#2a2a2a" stroke-width="0.25">S<tspan font-size="4.5" dx="0.1" dy="1.0" stroke-width="0.2">8</tspan></text>
<path d="M448.40 176.00H462.00" stroke="#FF8080" stroke-width="1.5"/>
<text x="465.40" y="179.00" font-family="Liberation Sans, sans-serif" font-style="italic" font-size="6.7" fill="#2a2a2a" stroke="#2a2a2a" stroke-width="0.25">S<tspan font-size="4.5" dx="0.1" dy="1.0" stroke-width="0.2">2</tspan></text>
<path d="M421.60 194.00H435.00" stroke="#800080" stroke-width="1.5"/>
<text x="438.40" y="197.00" font-family="Liberation Sans, sans-serif" font-style="italic" font-size="6.7" fill="#2a2a2a" stroke="#2a2a2a" stroke-width="0.25">S<tspan font-size="4.5" dx="0.1" dy="1.0" stroke-width="0.2">9</tspan></text>
<path d="M448.40 194.00H462.00" stroke="#FFFF00" stroke-width="1.5"/>
<text x="465.40" y="197.00" font-family="Liberation Sans, sans-serif" font-style="italic" font-size="6.7" fill="#2a2a2a" stroke="#2a2a2a" stroke-width="0.25">S<tspan font-size="4.5" dx="0.1" dy="1.0" stroke-width="0.2">3</tspan></text>
<path d="M421.60 212.00H435.00" stroke="#FF8000" stroke-width="1.5"/>
<text x="438.40" y="215.00" font-family="Liberation Sans, sans-serif" font-style="italic" font-size="6.7" fill="#2a2a2a" stroke="#2a2a2a" stroke-width="0.25">S<tspan font-size="4.5" dx="0.1" dy="1.0" stroke-width="0.2">10</tspan></text>
<path d="M448.40 212.00H462.00" stroke="#808080" stroke-width="1.5"/>
<text x="465.40" y="215.00" font-family="Liberation Sans, sans-serif" font-style="italic" font-size="6.7" fill="#2a2a2a" stroke="#2a2a2a" stroke-width="0.25">S<tspan font-size="4.5" dx="0.1" dy="1.0" stroke-width="0.2">4</tspan></text>
<path d="M421.60 230.00H435.00" stroke="#FF00FF" stroke-width="1.5"/>
<text x="438.40" y="233.00" font-family="Liberation Sans, sans-serif" font-style="italic" font-size="6.7" fill="#2a2a2a" stroke="#2a2a2a" stroke-width="0.25">S<tspan font-size="4.5" dx="0.1" dy="1.0" stroke-width="0.2">11</tspan></text>
<path d="M448.40 230.00H462.00" stroke="#00FFFF" stroke-width="1.5"/>
<text x="465.40" y="233.00" font-family="Liberation Sans, sans-serif" font-style="italic" font-size="6.7" fill="#2a2a2a" stroke="#2a2a2a" stroke-width="0.25">S<tspan font-size="4.5" dx="0.1" dy="1.0" stroke-width="0.2">5</tspan></text>
<path d="M421.60 248.00H435.00" stroke="#0000FF" stroke-width="1.5"/>
<text x="438.40" y="251.00" font-family="Liberation Sans, sans-serif" font-style="italic" font-size="6.7" fill="#2a2a2a" stroke="#2a2a2a" stroke-width="0.25">S<tspan font-size="4.5" dx="0.1" dy="1.0" stroke-width="0.2">12</tspan></text>
<path d="M448.40 248.00H462.00" stroke="#FF0000" stroke-width="1.5"/>
<text x="465.40" y="251.00" font-family="Liberation Sans, sans-serif" font-style="italic" font-size="6.7" fill="#2a2a2a" stroke="#2a2a2a" stroke-width="0.25">S<tspan font-size="4.5" dx="0.1" dy="1.0" stroke-width="0.2">6</tspan></text>
<clipPath id="c5"><rect x="515.30" y="153.30" width="208.70" height="129.50"/></clipPath>
<g clip-path="url(#c5)" fill="none" stroke-width="1.30" stroke-linejoin="round" stroke-linecap="butt">
<polyline stroke="#000000" points="519.35,258.07 522.21,258.07 525.07,258.08 527.93,258.09 530.80,258.12 533.66,258.14 536.52,258.18 539.38,258.22 542.24,258.27 545.10,258.33 547.96,258.40 550.82,258.47 553.68,258.55 556.54,258.64 559.40,258.74 562.26,258.85 565.12,258.97 567.99,259.10 570.85,259.23 573.71,259.38 576.57,259.53 579.43,259.69 582.29,259.87 585.15,260.05 588.01,260.24 590.87,260.44 593.73,260.66 596.59,260.88 599.45,261.11 602.32,261.35 605.18,261.61 608.04,261.87 610.90,262.14 613.76,262.42 616.62,262.72 619.48,263.02 622.34,263.34 625.20,263.66 628.06,264.00 630.92,264.35 633.78,264.70 636.64,265.07 639.51,265.45 642.37,265.84 645.23,266.25 648.09,266.66 650.95,267.08 653.81,267.52 656.67,267.96 659.53,268.42 662.39,268.89 665.25,269.37 668.11,269.86 670.97,270.37 673.84,270.88 676.70,271.41 679.56,271.95 682.42,272.50 685.28,273.06 688.14,273.63 691.00,274.22"/>
<polyline stroke="#FF8080" points="519.35,257.78 522.26,257.79 525.17,257.80 528.08,257.81 530.99,257.83 533.90,257.86 536.80,257.89 539.71,257.94 542.62,257.99 545.53,258.04 548.44,258.11 551.35,258.18 554.26,258.26 557.17,258.36 560.08,258.45 562.98,258.56 565.89,258.68 568.80,258.80 571.71,258.94 574.62,259.08 577.53,259.23 580.44,259.40 583.35,259.57 586.25,259.75 589.16,259.94 592.07,260.14 594.98,260.35 597.89,260.57 600.80,260.80 603.71,261.04 606.62,261.29 609.52,261.55 612.43,261.82 615.34,262.10 618.25,262.39 621.16,262.69 624.07,263.01 626.98,263.33 629.89,263.66 632.80,264.01 635.70,264.36 638.61,264.73 641.52,265.10 644.43,265.49 647.34,265.89 650.25,266.30 653.16,266.72 656.07,267.15 658.97,267.59 661.88,268.05 664.79,268.51 667.70,268.99 670.61,269.48 673.52,269.98 676.43,270.49 679.34,271.01 682.24,271.54 685.15,272.09 688.06,272.64 690.97,273.21 693.88,273.79"/>
<polyline stroke="#FFFF00" points="519.35,263.17 521.92,263.17 524.50,263.18 527.07,263.19 529.64,263.21 532.22,263.23 534.79,263.25 537.36,263.28 539.93,263.32 542.51,263.36 545.08,263.40 547.65,263.45 550.23,263.51 552.80,263.56 555.37,263.63 557.94,263.70 560.52,263.77 563.09,263.85 565.66,263.94 568.24,264.03 570.81,264.13 573.38,264.23 575.95,264.33 578.53,264.45 581.10,264.56 583.67,264.69 586.24,264.81 588.82,264.95 591.39,265.09 593.96,265.23 596.54,265.38 599.11,265.54 601.68,265.70 604.25,265.86 606.83,266.04 609.40,266.21 611.97,266.40 614.55,266.59 617.12,266.78 619.69,266.98 622.26,267.19 624.84,267.40 627.41,267.62 629.98,267.84 632.56,268.07 635.13,268.30 637.70,268.54 640.27,268.79 642.85,269.04 645.42,269.30 647.99,269.56 650.56,269.83 653.14,270.11 655.71,270.39 658.28,270.67 660.86,270.97 663.43,271.26 666.00,271.57 668.57,271.88 671.15,272.19 673.72,272.52"/>
<polyline stroke="#808080" points="519.35,253.11 522.00,253.14 524.64,253.19 527.28,253.26 529.92,253.34 532.57,253.43 535.21,253.54 537.85,253.66 540.50,253.79 543.14,253.93 545.78,254.08 548.43,254.24 551.07,254.42 553.71,254.60 556.36,254.79 559.00,254.99 561.64,255.20 564.29,255.42 566.93,255.65 569.57,255.89 572.22,256.13 574.86,256.38 577.50,256.65 580.15,256.91 582.79,257.19 585.43,257.48 588.08,257.77 590.72,258.07 593.36,258.38 596.00,258.69 598.65,259.02 601.29,259.35 603.93,259.68 606.58,260.03 609.22,260.38 611.86,260.74 614.51,261.10 617.15,261.48 619.79,261.86 622.44,262.24 625.08,262.63 627.72,263.03 630.37,263.44 633.01,263.85 635.65,264.27 638.30,264.69 640.94,265.13 643.58,265.56 646.23,266.01 648.87,266.46 651.51,266.91 654.16,267.38 656.80,267.84 659.44,268.32 662.08,268.80 664.73,269.29 667.37,269.78 670.01,270.28 672.66,270.78 675.30,271.29 677.94,271.81"/>
<polyline stroke="#00FFFF" points="519.35,243.48 522.16,243.53 524.97,243.61 527.78,243.73 530.59,243.87 533.40,244.05 536.21,244.24 539.02,244.47 541.83,244.71 544.64,244.98 547.45,245.27 550.26,245.58 553.07,245.91 555.88,246.25 558.69,246.62 561.50,247.00 564.31,247.40 567.12,247.81 569.92,248.24 572.73,248.68 575.54,249.13 578.35,249.60 581.16,250.08 583.97,250.56 586.78,251.06 589.59,251.57 592.40,252.09 595.21,252.61 598.02,253.14 600.83,253.68 603.64,254.23 606.45,254.78 609.26,255.33 612.07,255.89 614.88,256.46 617.69,257.02 620.50,257.59 623.31,258.16 626.12,258.73 628.93,259.30 631.74,259.88 634.55,260.45 637.36,261.02 640.16,261.59 642.97,262.16 645.78,262.73 648.59,263.29 651.40,263.85 654.21,264.41 657.02,264.96 659.83,265.51 662.64,266.05 665.45,266.59 668.26,267.12 671.07,267.65 673.88,268.17 676.69,268.69 679.50,269.19 682.31,269.69 685.12,270.19 687.93,270.68"/>
<polyline stroke="#FF0000" points="519.35,232.15 522.28,232.25 525.20,232.41 528.13,232.64 531.05,232.91 533.98,233.22 536.90,233.58 539.83,233.98 542.75,234.42 545.68,234.89 548.60,235.39 551.52,235.93 554.45,236.49 557.37,237.08 560.30,237.69 563.22,238.33 566.15,238.99 569.07,239.67 572.00,240.37 574.92,241.09 577.85,241.82 580.77,242.57 583.70,243.33 586.62,244.11 589.55,244.89 592.47,245.69 595.40,246.49 598.32,247.30 601.25,248.12 604.17,248.94 607.10,249.77 610.02,250.60 612.95,251.43 615.87,252.27 618.80,253.10 621.72,253.93 624.64,254.77 627.57,255.59 630.49,256.42 633.42,257.24 636.34,258.06 639.27,258.87 642.19,259.68 645.12,260.47 648.04,261.27 650.97,262.05 653.89,262.82 656.82,263.59 659.74,264.35 662.67,265.09 665.59,265.83 668.52,266.55 671.44,267.26 674.37,267.96 677.29,268.65 680.22,269.33 683.14,269.99 686.07,270.64 688.99,271.28 691.92,271.91 694.84,272.52"/>
<polyline stroke="#00FF00" points="519.35,195.75 522.31,195.90 525.27,196.18 528.23,196.60 531.19,197.15 534.15,197.81 537.11,198.59 540.07,199.48 543.03,200.48 545.99,201.57 548.95,202.76 551.91,204.04 554.87,205.40 557.83,206.83 560.79,208.34 563.75,209.91 566.71,211.54 569.67,213.22 572.63,214.94 575.59,216.71 578.55,218.51 581.51,220.33 584.47,222.18 587.43,224.04 590.39,225.91 593.35,227.79 596.31,229.66 599.27,231.53 602.23,233.38 605.19,235.22 608.15,237.04 611.11,238.83 614.07,240.59 617.03,242.33 619.99,244.02 622.95,245.68 625.91,247.29 628.87,248.87 631.83,250.39 634.79,251.87 637.75,253.30 640.71,254.67 643.67,256.00 646.63,257.27 649.59,258.49 652.55,259.66 655.51,260.77 658.47,261.83 661.43,262.84 664.39,263.80 667.35,264.70 670.31,265.55 673.27,266.35 676.23,267.10 679.19,267.81 682.15,268.47 685.11,269.08 688.07,269.65 691.03,270.17 693.99,270.66 696.95,271.10"/>
<polyline stroke="#996633" points="519.35,217.13 522.39,217.23 525.43,217.42 528.46,217.70 531.50,218.05 534.54,218.49 537.57,218.99 540.61,219.57 543.65,220.22 546.68,220.93 549.72,221.70 552.76,222.53 555.79,223.41 558.83,224.34 561.87,225.32 564.90,226.35 567.94,227.41 570.98,228.51 574.01,229.65 577.05,230.81 580.09,232.00 583.12,233.21 586.16,234.44 589.20,235.69 592.24,236.95 595.27,238.22 598.31,239.50 601.35,240.77 604.38,242.05 607.42,243.33 610.46,244.60 613.49,245.86 616.53,247.12 619.57,248.35 622.60,249.58 625.64,250.78 628.68,251.97 631.71,253.14 634.75,254.28 637.79,255.40 640.82,256.49 643.86,257.56 646.90,258.59 649.93,259.60 652.97,260.58 656.01,261.52 659.04,262.44 662.08,263.32 665.12,264.17 668.16,264.99 671.19,265.77 674.23,266.52 677.27,267.24 680.30,267.92 683.34,268.57 686.38,269.19 689.41,269.78 692.45,270.33 695.49,270.86 698.52,271.35 701.56,271.81"/>
<polyline stroke="#800080" points="519.35,204.95 522.40,205.06 525.44,205.29 528.49,205.63 531.54,206.07 534.58,206.62 537.63,207.27 540.68,208.02 543.72,208.85 546.77,209.78 549.82,210.79 552.86,211.88 555.91,213.04 558.96,214.28 562.00,215.58 565.05,216.94 568.09,218.35 571.14,219.81 574.19,221.32 577.23,222.86 580.28,224.44 583.33,226.05 586.37,227.67 589.42,229.32 592.47,230.97 595.51,232.63 598.56,234.30 601.60,235.96 604.65,237.61 607.70,239.25 610.74,240.87 613.79,242.48 616.84,244.06 619.88,245.61 622.93,247.14 625.98,248.63 629.02,250.08 632.07,251.50 635.12,252.87 638.16,254.21 641.21,255.50 644.25,256.74 647.30,257.94 650.35,259.09 653.39,260.20 656.44,261.25 659.49,262.26 662.53,263.22 665.58,264.13 668.63,264.99 671.67,265.81 674.72,266.57 677.76,267.29 680.81,267.97 683.86,268.60 686.90,269.19 689.95,269.74 693.00,270.24 696.04,270.71 699.09,271.14 702.14,271.53"/>
<polyline stroke="#FF8000" points="519.35,158.80 522.43,159.21 525.52,159.94 528.60,160.94 531.68,162.19 534.76,163.66 537.84,165.33 540.92,167.19 544.00,169.22 547.09,171.40 550.17,173.71 553.25,176.15 556.33,178.70 559.41,181.34 562.49,184.06 565.58,186.85 568.66,189.70 571.74,192.58 574.82,195.50 577.90,198.44 580.98,201.38 584.07,204.33 587.15,207.26 590.23,210.17 593.31,213.06 596.39,215.90 599.47,218.71 602.56,221.46 605.64,224.16 608.72,226.79 611.80,229.36 614.88,231.86 617.96,234.28 621.04,236.63 624.13,238.90 627.21,241.08 630.29,243.18 633.37,245.19 636.45,247.12 639.53,248.96 642.62,250.72 645.70,252.39 648.78,253.97 651.86,255.47 654.94,256.89 658.02,258.22 661.11,259.48 664.19,260.65 667.27,261.75 670.35,262.78 673.43,263.73 676.51,264.61 679.60,265.43 682.68,266.18 685.76,266.87 688.84,267.50 691.92,268.07 695.00,268.58 698.08,269.05 701.17,269.46 704.25,269.83"/>
<polyline stroke="#FF00FF" points="519.35,264.06 522.57,264.07 525.79,264.09 529.01,264.12 532.23,264.15 535.45,264.20 538.67,264.25 541.89,264.31 545.11,264.37 548.32,264.44 551.54,264.52 554.76,264.61 557.98,264.71 561.20,264.81 564.42,264.91 567.64,265.03 570.86,265.15 574.08,265.27 577.30,265.41 580.52,265.55 583.74,265.69 586.96,265.85 590.17,266.00 593.39,266.17 596.61,266.34 599.83,266.52 603.05,266.70 606.27,266.89 609.49,267.08 612.71,267.28 615.93,267.49 619.15,267.70 622.37,267.92 625.59,268.15 628.80,268.38 632.02,268.61 635.24,268.85 638.46,269.10 641.68,269.36 644.90,269.61 648.12,269.88 651.34,270.15 654.56,270.43 657.78,270.71 661.00,271.00 664.22,271.29 667.44,271.59 670.65,271.89 673.87,272.20 677.09,272.52 680.31,272.84 683.53,273.16 686.75,273.49 689.97,273.83 693.19,274.17 696.41,274.52 699.63,274.87 702.85,275.23 706.07,275.60 709.28,275.97 712.50,276.34"/>
<polyline stroke="#0000FF" points="519.35,255.46 522.71,255.56 526.07,255.69 529.42,255.84 532.78,256.01 536.14,256.20 539.49,256.41 542.85,256.62 546.21,256.85 549.56,257.09 552.92,257.33 556.28,257.59 559.63,257.85 562.99,258.12 566.35,258.40 569.70,258.69 573.06,258.98 576.42,259.28 579.77,259.58 583.13,259.89 586.49,260.21 589.84,260.53 593.20,260.86 596.56,261.19 599.92,261.53 603.27,261.87 606.63,262.22 609.99,262.57 613.34,262.92 616.70,263.28 620.06,263.65 623.41,264.02 626.77,264.39 630.13,264.76 633.48,265.14 636.84,265.52 640.20,265.91 643.55,266.30 646.91,266.69 650.27,267.09 653.62,267.49 656.98,267.89 660.34,268.30 663.69,268.70 667.05,269.12 670.41,269.53 673.76,269.95 677.12,270.37 680.48,270.79 683.84,271.22 687.19,271.64 690.55,272.07 693.91,272.51 697.26,272.94 700.62,273.38 703.98,273.82 707.33,274.26 710.69,274.71 714.05,275.16 717.40,275.61 720.76,276.06"/>
</g>
<rect x="515.30" y="153.30" width="208.70" height="129.50" fill="none" stroke="#b4b4b4" stroke-width="0.9"/>
<path d="M518.20 282.80v-3.00M518.20 153.30v3.00M527.80 282.80v-1.60M527.80 153.30v1.60M537.40 282.80v-1.60M537.40 153.30v1.60M547.00 282.80v-1.60M547.00 153.30v1.60M556.60 282.80v-3.00M556.60 153.30v3.00M566.20 282.80v-1.60M566.20 153.30v1.60M575.80 282.80v-1.60M575.80 153.30v1.60M585.40 282.80v-1.60M585.40 153.30v1.60M595.00 282.80v-3.00M595.00 153.30v3.00M604.60 282.80v-1.60M604.60 153.30v1.60M614.20 282.80v-1.60M614.20 153.30v1.60M623.80 282.80v-1.60M623.80 153.30v1.60M633.40 282.80v-3.00M633.40 153.30v3.00M643.00 282.80v-1.60M643.00 153.30v1.60M652.60 282.80v-1.60M652.60 153.30v1.60M662.20 282.80v-1.60M662.20 153.30v1.60M671.80 282.80v-3.00M671.80 153.30v3.00M681.40 282.80v-1.60M681.40 153.30v1.60M691.00 282.80v-1.60M691.00 153.30v1.60M700.60 282.80v-1.60M700.60 153.30v1.60M710.20 282.80v-3.00M710.20 153.30v3.00M719.80 282.80v-1.60M719.80 153.30v1.60M515.30 276.77h1.60M724.00 276.77h-1.60M515.30 269.68h1.60M724.00 269.68h-1.60M515.30 262.60h3.00M724.00 262.60h-3.00M515.30 255.52h1.60M724.00 255.52h-1.60M515.30 248.43h1.60M724.00 248.43h-1.60M515.30 241.35h1.60M724.00 241.35h-1.60M515.30 234.27h3.00M724.00 234.27h-3.00M515.30 227.18h1.60M724.00 227.18h-1.60M515.30 220.10h1.60M724.00 220.10h-1.60M515.30 213.02h1.60M724.00 213.02h-1.60M515.30 205.93h3.00M724.00 205.93h-3.00M515.30 198.85h1.60M724.00 198.85h-1.60M515.30 191.77h1.60M724.00 191.77h-1.60M515.30 184.68h1.60M724.00 184.68h-1.60M515.30 177.60h3.00M724.00 177.60h-3.00M515.30 170.52h1.60M724.00 170.52h-1.60M515.30 163.43h1.60M724.00 163.43h-1.60M515.30 156.35h1.60M724.00 156.35h-1.60" stroke="#8a8a8a" stroke-width="0.8" fill="none"/>
<g font-family="Liberation Sans, sans-serif" font-size="6.3" fill="#1a1a1a" stroke="#2a2a2a" stroke-width="0.2"><text x="518.20" y="290.10" text-anchor="middle">0</text><text x="556.60" y="290.10" text-anchor="middle">2</text><text x="595.00" y="290.10" text-anchor="middle">4</text><text x="633.40" y="290.10" text-anchor="middle">6</text><text x="671.80" y="290.10" text-anchor="middle">8</text><text x="710.20" y="290.10" text-anchor="middle">10</text><text x="513.40" y="264.80" text-anchor="end">0.02</text><text x="513.40" y="236.47" text-anchor="end">0.04</text><text x="513.40" y="208.13" text-anchor="end">0.06</text><text x="513.40" y="179.80" text-anchor="end">0.08</text></g>
<text x="619.90" y="300.30" text-anchor="middle" font-family="Liberation Sans, sans-serif" font-weight="bold" font-size="6.2" fill="#000" stroke="#000" stroke-width="0.15"><tspan font-style="italic">r</tspan> [km]</text>
<text transform="translate(494.60 192.00) rotate(-90)" text-anchor="end" font-family="Liberation Sans, sans-serif" font-weight="bold" font-size="6.1" fill="#000" stroke="#000" stroke-width="0.12"><tspan font-style="italic">&#961;</tspan><tspan>+</tspan><tspan font-style="italic">p</tspan><tspan font-size="4.2" dy="0.90">r</tspan><tspan dy="-0.90">+</tspan><tspan>2</tspan><tspan font-style="italic">p</tspan><tspan font-size="4.2" dy="0.90">t</tspan><tspan dy="-0.90"> [MeV/fm</tspan><tspan font-size="4.2" dy="-3.00">3</tspan><tspan dy="3.00">]</tspan></text>
<path d="M666.00 163.00H679.00" stroke="#00FF00" stroke-width="1.5"/>
<text x="682.40" y="166.00" font-family="Liberation Sans, sans-serif" font-style="italic" font-size="6.7" fill="#2a2a2a" stroke="#2a2a2a" stroke-width="0.25">S<tspan font-size="4.5" dx="0.1" dy="1.0" stroke-width="0.2">7</tspan></text>
<path d="M697.40 163.00H710.40" stroke="#000000" stroke-width="1.5"/>
<text x="713.80" y="166.00" font-family="Liberation Sans, sans-serif" font-style="italic" font-size="6.7" fill="#2a2a2a" stroke="#2a2a2a" stroke-width="0.25">S<tspan font-size="4.5" dx="0.1" dy="1.0" stroke-width="0.2">1</tspan></text>
<path d="M666.00 181.00H679.00" stroke="#996633" stroke-width="1.5"/>
<text x="682.40" y="184.00" font-family="Liberation Sans, sans-serif" font-style="italic" font-size="6.7" fill="#2a2a2a" stroke="#2a2a2a" stroke-width="0.25">S<tspan font-size="4.5" dx="0.1" dy="1.0" stroke-width="0.2">8</tspan></text>
<path d="M697.40 181.00H710.40" stroke="#FF8080" stroke-width="1.5"/>
<text x="713.80" y="184.00" font-family="Liberation Sans, sans-serif" font-style="italic" font-size="6.7" fill="#2a2a2a" stroke="#2a2a2a" stroke-width="0.25">S<tspan font-size="4.5" dx="0.1" dy="1.0" stroke-width="0.2">2</tspan></text>
<path d="M666.00 199.00H679.00" stroke="#800080" stroke-width="1.5"/>
<text x="682.40" y="202.00" font-family="Liberation Sans, sans-serif" font-style="italic" font-size="6.7" fill="#2a2a2a" stroke="#2a2a2a" stroke-width="0.25">S<tspan font-size="4.5" dx="0.1" dy="1.0" stroke-width="0.2">9</tspan></text>
<path d="M697.40 199.00H710.40" stroke="#FFFF00" stroke-width="1.5"/>
<text x="713.80" y="202.00" font-family="Liberation Sans, sans-serif" font-style="italic" font-size="6.7" fill="#2a2a2a" stroke="#2a2a2a" stroke-width="0.25">S<tspan font-size="4.5" dx="0.1" dy="1.0" stroke-width="0.2">3</tspan></text>
<path d="M666.00 217.00H679.00" stroke="#FF8000" stroke-width="1.5"/>
<text x="682.40" y="220.00" font-family="Liberation Sans, sans-serif" font-style="italic" font-size="6.7" fill="#2a2a2a" stroke="#2a2a2a" stroke-width="0.25">S<tspan font-size="4.5" dx="0.1" dy="1.0" stroke-width="0.2">10</tspan></text>
<path d="M697.40 217.00H710.40" stroke="#808080" stroke-width="1.5"/>
<text x="713.80" y="220.00" font-family="Liberation Sans, sans-serif" font-style="italic" font-size="6.7" fill="#2a2a2a" stroke="#2a2a2a" stroke-width="0.25">S<tspan font-size="4.5" dx="0.1" dy="1.0" stroke-width="0.2">4</tspan></text>
<path d="M666.00 235.00H679.00" stroke="#FF00FF" stroke-width="1.5"/>
<text x="682.40" y="238.00" font-family="Liberation Sans, sans-serif" font-style="italic" font-size="6.7" fill="#2a2a2a" stroke="#2a2a2a" stroke-width="0.25">S<tspan font-size="4.5" dx="0.1" dy="1.0" stroke-width="0.2">11</tspan></text>
<path d="M697.40 235.00H710.40" stroke="#00FFFF" stroke-width="1.5"/>
<text x="713.80" y="238.00" font-family="Liberation Sans, sans-serif" font-style="italic" font-size="6.7" fill="#2a2a2a" stroke="#2a2a2a" stroke-width="0.25">S<tspan font-size="4.5" dx="0.1" dy="1.0" stroke-width="0.2">5</tspan></text>
<path d="M666.00 253.00H679.00" stroke="#0000FF" stroke-width="1.5"/>
<text x="682.40" y="256.00" font-family="Liberation Sans, sans-serif" font-style="italic" font-size="6.7" fill="#2a2a2a" stroke="#2a2a2a" stroke-width="0.25">S<tspan font-size="4.5" dx="0.1" dy="1.0" stroke-width="0.2">12</tspan></text>
<path d="M697.40 253.00H710.40" stroke="#FF0000" stroke-width="1.5"/>
<text x="713.80" y="256.00" font-family="Liberation Sans, sans-serif" font-style="italic" font-size="6.7" fill="#2a2a2a" stroke="#2a2a2a" stroke-width="0.25">S<tspan font-size="4.5" dx="0.1" dy="1.0" stroke-width="0.2">6</tspan></text>
</svg>
</body></html>
